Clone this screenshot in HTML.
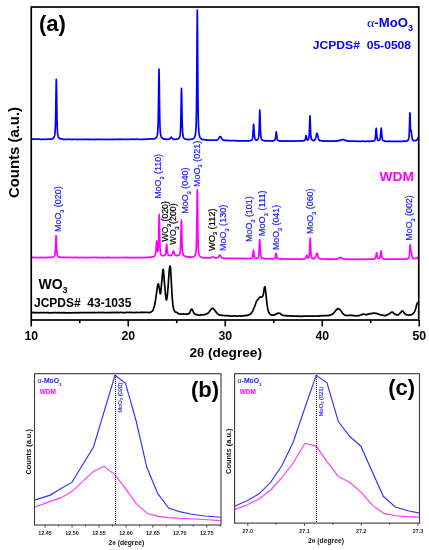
<!DOCTYPE html>
<html><head><meta charset="utf-8"><style>
html,body{margin:0;padding:0;background:#fff;}
body{width:429px;height:550px;overflow:hidden;}
svg{display:block;}
text{font-family:"Liberation Sans",Arial,sans-serif;}
.b{font-weight:bold;}
</style></head><body>
<svg width="429" height="550" viewBox="0 0 429 550">
<rect width="429" height="550" fill="#fff"/>
<!-- panel a curves -->
<g fill="none" stroke-linejoin="round" stroke-width="1.7">
<polyline stroke="#0000ff" points="31.25,139.21 31.50,139.29 31.75,139.09 32.00,138.97 32.25,139.12 32.50,139.18 32.75,139.20 33.00,139.11 33.25,139.14 33.50,139.16 33.75,139.16 34.00,139.05 34.25,139.06 34.50,139.06 34.75,139.15 35.00,139.28 35.25,139.35 35.50,139.28 35.75,139.21 36.00,139.12 36.25,139.00 36.50,138.92 36.75,139.01 37.00,139.01 37.25,139.04 37.50,139.19 37.75,139.19 38.00,139.19 38.25,139.11 38.50,139.00 38.75,139.02 39.00,138.98 39.25,139.06 39.50,139.25 39.75,139.27 40.00,139.14 40.25,139.27 40.50,139.32 40.75,139.33 41.00,139.39 41.25,139.38 41.50,139.39 41.75,139.27 42.00,139.37 42.25,139.43 42.50,139.24 42.75,139.30 43.00,139.32 43.25,139.26 43.50,139.24 43.75,139.22 44.00,139.33 44.25,139.28 44.50,139.34 44.75,139.24 45.00,139.33 45.25,139.39 45.50,139.30 45.75,139.28 46.00,139.36 46.25,139.36 46.50,139.28 46.75,139.17 47.00,139.12 47.25,139.20 47.50,139.09 47.75,139.23 48.00,139.14 48.25,139.26 48.50,139.15 48.75,139.27 49.00,139.27 49.25,139.20 49.50,139.16 49.75,139.16 50.00,139.14 50.25,139.04 50.50,138.94 50.75,138.95 51.00,139.06 51.25,139.02 51.50,138.82 51.75,138.88 52.00,138.86 52.25,138.87 52.50,138.62 52.75,138.58 53.00,138.29 53.25,138.19 53.50,137.91 53.75,137.59 54.00,137.37 54.25,136.74 54.50,136.08 54.75,135.13 55.00,133.25 55.25,129.81 55.50,123.24 55.75,111.01 56.00,93.49 56.25,79.84 56.30,79.35 56.50,86.34 56.75,104.38 57.00,118.94 57.25,127.81 57.50,132.13 57.75,134.51 58.00,135.66 58.25,136.48 58.50,137.21 58.75,137.54 59.00,137.81 59.25,138.16 59.50,138.34 59.75,138.38 60.00,138.71 60.25,138.69 60.50,138.67 60.75,138.77 61.00,138.92 61.25,139.06 61.50,138.98 61.75,139.01 62.00,138.95 62.25,139.04 62.50,139.19 62.75,139.28 63.00,139.38 63.25,139.41 63.50,139.46 63.75,139.46 64.00,139.39 64.25,139.29 64.50,139.35 64.75,139.29 65.00,139.20 65.25,139.25 65.50,139.40 65.75,139.28 66.00,139.34 66.25,139.32 66.50,139.35 66.75,139.26 67.00,139.44 67.25,139.35 67.50,139.40 67.75,139.37 68.00,139.25 68.25,139.33 68.50,139.26 68.75,139.19 69.00,139.15 69.25,139.16 69.50,139.15 69.75,139.29 70.00,139.34 70.25,139.51 70.50,139.59 70.75,139.66 71.00,139.49 71.25,139.45 71.50,139.37 71.75,139.41 72.00,139.45 72.25,139.52 72.50,139.54 72.75,139.43 73.00,139.41 73.25,139.42 73.50,139.28 73.75,139.21 74.00,139.27 74.25,139.23 74.50,139.37 74.75,139.32 75.00,139.25 75.25,139.23 75.50,139.24 75.75,139.23 76.00,139.32 76.25,139.35 76.50,139.33 76.75,139.41 77.00,139.34 77.25,139.49 77.50,139.59 77.75,139.59 78.00,139.51 78.25,139.48 78.50,139.48 78.75,139.34 79.00,139.35 79.25,139.39 79.50,139.32 79.75,139.25 80.00,139.40 80.25,139.38 80.50,139.40 80.75,139.53 81.00,139.52 81.25,139.42 81.50,139.56 81.75,139.47 82.00,139.32 82.25,139.41 82.50,139.31 82.75,139.30 83.00,139.45 83.25,139.49 83.50,139.33 83.75,139.35 84.00,139.36 84.25,139.38 84.50,139.32 84.75,139.38 85.00,139.28 85.25,139.28 85.50,139.30 85.75,139.47 86.00,139.33 86.25,139.44 86.50,139.35 86.75,139.40 87.00,139.38 87.25,139.38 87.50,139.47 87.75,139.42 88.00,139.31 88.25,139.25 88.50,139.20 88.75,139.38 89.00,139.44 89.25,139.56 89.50,139.55 89.75,139.37 90.00,139.43 90.25,139.50 90.50,139.53 90.75,139.48 91.00,139.41 91.25,139.40 91.50,139.49 91.75,139.39 92.00,139.41 92.25,139.40 92.50,139.53 92.75,139.57 93.00,139.63 93.25,139.63 93.50,139.49 93.75,139.38 94.00,139.39 94.25,139.33 94.50,139.34 94.75,139.42 95.00,139.53 95.25,139.50 95.50,139.55 95.75,139.38 96.00,139.35 96.25,139.51 96.50,139.37 96.75,139.36 97.00,139.25 97.25,139.20 97.50,139.39 97.75,139.53 98.00,139.52 98.25,139.37 98.50,139.32 98.75,139.28 99.00,139.37 99.25,139.43 99.50,139.40 99.75,139.41 100.00,139.29 100.25,139.34 100.50,139.49 100.75,139.52 101.00,139.36 101.25,139.38 101.50,139.44 101.75,139.35 102.00,139.48 102.25,139.43 102.50,139.47 102.75,139.41 103.00,139.54 103.25,139.56 103.50,139.51 103.75,139.36 104.00,139.35 104.25,139.24 104.50,139.32 104.75,139.45 105.00,139.34 105.25,139.36 105.50,139.36 105.75,139.34 106.00,139.42 106.25,139.53 106.50,139.52 106.75,139.46 107.00,139.56 107.25,139.44 107.50,139.48 107.75,139.48 108.00,139.51 108.25,139.56 108.50,139.41 108.75,139.43 109.00,139.38 109.25,139.42 109.50,139.54 109.75,139.51 110.00,139.32 110.25,139.33 110.50,139.40 110.75,139.50 111.00,139.49 111.25,139.53 111.50,139.33 111.75,139.47 112.00,139.49 112.25,139.47 112.50,139.54 112.75,139.58 113.00,139.38 113.25,139.46 113.50,139.50 113.75,139.36 114.00,139.43 114.25,139.43 114.50,139.31 114.75,139.42 115.00,139.29 115.25,139.35 115.50,139.33 115.75,139.27 116.00,139.33 116.25,139.33 116.50,139.26 116.75,139.43 117.00,139.28 117.25,139.17 117.50,139.24 117.75,139.38 118.00,139.41 118.25,139.46 118.50,139.41 118.75,139.43 119.00,139.35 119.25,139.29 119.50,139.31 119.75,139.19 120.00,139.14 120.25,139.29 120.50,139.22 120.75,139.34 121.00,139.42 121.25,139.36 121.50,139.40 121.75,139.46 122.00,139.51 122.25,139.34 122.50,139.25 122.75,139.25 123.00,139.27 123.25,139.24 123.50,139.14 123.75,139.23 124.00,139.40 124.25,139.34 124.50,139.35 124.75,139.31 125.00,139.30 125.25,139.42 125.50,139.33 125.75,139.37 126.00,139.35 126.25,139.35 126.50,139.46 126.75,139.29 127.00,139.39 127.25,139.31 127.50,139.36 127.75,139.42 128.00,139.43 128.25,139.35 128.50,139.43 128.75,139.27 129.00,139.33 129.25,139.29 129.50,139.31 129.75,139.41 130.00,139.45 130.25,139.43 130.50,139.33 130.75,139.25 131.00,139.26 131.25,139.20 131.50,139.18 131.75,139.36 132.00,139.23 132.25,139.35 132.50,139.30 132.75,139.26 133.00,139.23 133.25,139.14 133.50,139.19 133.75,139.14 134.00,139.19 134.25,139.17 134.50,139.33 134.75,139.43 135.00,139.36 135.25,139.37 135.50,139.46 135.75,139.34 136.00,139.21 136.25,139.17 136.50,139.13 136.75,139.24 137.00,139.22 137.25,139.21 137.50,139.32 137.75,139.23 138.00,139.33 138.25,139.35 138.50,139.29 138.75,139.37 139.00,139.29 139.25,139.39 139.50,139.46 139.75,139.38 140.00,139.39 140.25,139.46 140.50,139.45 140.75,139.44 141.00,139.47 141.25,139.51 141.50,139.48 141.75,139.52 142.00,139.35 142.25,139.34 142.50,139.35 142.75,139.27 143.00,139.23 143.25,139.14 143.50,139.31 143.75,139.24 144.00,139.23 144.25,139.34 144.50,139.20 144.75,139.34 145.00,139.18 145.25,139.06 145.50,139.08 145.75,139.09 146.00,139.25 146.25,139.34 146.50,139.35 146.75,139.27 147.00,139.25 147.25,139.14 147.50,139.25 147.75,139.18 148.00,139.11 148.25,139.17 148.50,139.06 148.75,139.04 149.00,139.20 149.25,139.05 149.50,138.98 149.75,138.94 150.00,138.93 150.25,138.97 150.50,138.95 150.75,138.96 151.00,138.93 151.25,138.91 151.50,138.99 151.75,138.96 152.00,138.94 152.25,139.04 152.50,138.89 152.75,138.81 153.00,138.95 153.25,138.90 153.50,138.95 153.75,138.78 154.00,138.77 154.25,138.83 154.50,138.69 154.75,138.69 155.00,138.60 155.25,138.43 155.50,138.43 155.75,138.17 156.00,137.93 156.25,137.69 156.50,137.28 156.75,136.92 157.00,136.28 157.25,135.38 157.50,133.99 157.75,131.76 158.00,127.28 158.25,118.30 158.50,102.43 158.75,81.25 159.00,69.05 159.25,81.10 159.50,102.15 159.75,118.12 160.00,126.99 160.25,131.70 160.50,134.08 160.75,135.53 161.00,136.25 161.25,136.84 161.50,137.41 161.75,137.61 162.00,137.81 162.25,138.06 162.50,138.20 162.75,138.31 163.00,138.55 163.25,138.57 163.50,138.84 163.75,138.94 164.00,138.85 164.25,139.05 164.50,139.00 164.75,139.04 165.00,139.11 165.25,139.03 165.50,139.10 165.75,139.03 166.00,139.03 166.25,139.23 166.50,139.33 166.75,139.31 167.00,139.35 167.25,139.43 167.50,139.27 167.75,139.27 168.00,139.17 168.25,139.10 168.50,139.05 168.75,139.03 169.00,138.96 169.25,138.92 169.50,138.88 169.75,138.83 170.00,138.75 170.25,138.56 170.50,138.22 170.75,137.81 171.00,137.59 171.25,137.27 171.30,137.15 171.50,137.36 171.75,137.64 172.00,137.89 172.25,138.24 172.50,138.51 172.75,138.78 173.00,138.97 173.25,139.09 173.50,139.27 173.75,139.39 174.00,139.39 174.25,139.37 174.50,139.30 174.75,139.39 175.00,139.51 175.25,139.36 175.50,139.40 175.75,139.41 176.00,139.40 176.25,139.20 176.50,139.22 176.75,139.11 177.00,139.02 177.25,139.05 177.50,139.06 177.75,139.01 178.00,138.97 178.25,138.88 178.50,138.67 178.75,138.33 179.00,138.20 179.25,137.94 179.50,137.54 179.75,136.85 180.00,135.67 180.25,133.89 180.50,130.50 180.75,124.04 181.00,112.55 181.25,97.04 181.50,88.30 181.75,97.32 182.00,112.81 182.25,124.25 182.50,130.72 182.75,133.96 183.00,135.80 183.25,136.85 183.50,137.41 183.75,137.99 184.00,138.31 184.25,138.51 184.50,138.67 184.75,138.89 185.00,138.98 185.25,139.11 185.50,139.06 185.75,139.22 186.00,139.20 186.25,139.39 186.50,139.31 186.75,139.31 187.00,139.37 187.25,139.37 187.50,139.42 187.75,139.56 188.00,139.44 188.25,139.54 188.50,139.57 188.75,139.61 189.00,139.54 189.25,139.50 189.50,139.44 189.75,139.43 190.00,139.36 190.25,139.29 190.50,139.31 190.75,139.24 191.00,139.25 191.25,139.27 191.50,139.19 191.75,139.08 192.00,139.10 192.25,139.15 192.50,138.96 192.75,138.91 193.00,138.83 193.25,138.78 193.50,138.60 193.75,138.29 194.00,137.94 194.25,137.73 194.50,137.24 194.75,136.57 195.00,136.02 195.25,134.95 195.50,133.54 195.75,131.47 196.00,128.07 196.25,121.77 196.50,108.44 196.75,82.73 197.00,43.24 197.25,11.34 197.30,9.99 197.50,27.00 197.75,68.16 198.00,99.84 198.25,117.57 198.50,126.14 198.75,130.35 199.00,132.92 199.25,134.69 199.50,135.83 199.75,136.62 200.00,137.30 200.25,137.84 200.50,138.04 200.75,138.27 201.00,138.66 201.25,138.94 201.50,138.95 201.75,139.14 202.00,139.33 202.25,139.40 202.50,139.50 202.75,139.53 203.00,139.49 203.25,139.48 203.50,139.45 203.75,139.61 204.00,139.58 204.25,139.71 204.50,139.73 204.75,139.77 205.00,139.95 205.25,139.91 205.50,139.92 205.75,139.90 206.00,139.85 206.25,139.83 206.50,139.92 206.75,140.05 207.00,139.93 207.25,140.11 207.50,140.14 207.75,139.99 208.00,140.09 208.25,140.07 208.50,140.09 208.75,139.99 209.00,140.05 209.25,140.09 209.50,140.20 209.75,140.20 210.00,140.25 210.25,140.28 210.50,140.16 210.75,140.04 211.00,140.09 211.25,140.03 211.50,140.00 211.75,140.03 212.00,140.11 212.25,140.18 212.50,140.23 212.75,140.35 213.00,140.18 213.25,140.21 213.50,140.10 213.75,140.19 214.00,140.18 214.25,140.09 214.50,140.08 214.75,140.17 215.00,140.17 215.25,140.29 215.50,140.20 215.75,140.13 216.00,140.24 216.25,140.20 216.50,140.01 216.75,140.06 217.00,139.94 217.25,139.97 217.50,139.83 217.75,139.70 218.00,139.53 218.25,139.18 218.50,138.93 218.75,138.34 219.00,137.88 219.25,137.56 219.50,136.98 219.75,136.73 220.00,136.65 220.20,136.60 220.25,136.65 220.50,136.59 220.75,136.89 221.00,137.31 221.25,137.72 221.50,138.13 221.75,138.64 222.00,138.88 222.25,139.09 222.50,139.44 222.75,139.81 223.00,140.03 223.25,140.15 223.50,140.13 223.75,140.31 224.00,140.19 224.25,140.18 224.50,140.34 224.75,140.47 225.00,140.42 225.25,140.53 225.50,140.39 225.75,140.44 226.00,140.33 226.25,140.31 226.50,140.30 226.75,140.24 227.00,140.32 227.25,140.40 227.50,140.39 227.75,140.49 228.00,140.39 228.25,140.46 228.50,140.50 228.75,140.50 229.00,140.65 229.25,140.51 229.50,140.52 229.75,140.54 230.00,140.53 230.25,140.69 230.50,140.68 230.75,140.66 231.00,140.63 231.25,140.61 231.50,140.74 231.75,140.79 232.00,140.77 232.25,140.63 232.50,140.66 232.75,140.56 233.00,140.56 233.25,140.47 233.50,140.61 233.75,140.77 234.00,140.77 234.25,140.76 234.50,140.66 234.75,140.66 235.00,140.66 235.25,140.66 235.50,140.61 235.75,140.57 236.00,140.70 236.25,140.84 236.50,140.88 236.75,140.85 237.00,140.67 237.25,140.64 237.50,140.78 237.75,140.90 238.00,140.85 238.25,140.83 238.50,140.85 238.75,140.74 239.00,140.81 239.25,140.75 239.50,140.86 239.75,140.81 240.00,140.84 240.25,140.83 240.50,140.82 240.75,140.80 241.00,140.92 241.25,140.94 241.50,140.86 241.75,140.84 242.00,140.93 242.25,140.95 242.50,140.93 242.75,141.01 243.00,140.82 243.25,140.84 243.50,140.87 243.75,140.83 244.00,140.95 244.25,141.03 244.50,140.91 244.75,140.91 245.00,140.95 245.25,140.95 245.50,140.86 245.75,140.92 246.00,140.84 246.25,140.73 246.50,140.81 246.75,140.85 247.00,140.80 247.25,140.80 247.50,140.93 247.75,140.96 248.00,140.86 248.25,140.94 248.50,140.88 248.75,140.80 249.00,140.81 249.25,140.84 249.50,140.88 249.75,140.83 250.00,140.78 250.25,140.65 250.50,140.45 250.75,140.41 251.00,140.24 251.25,140.31 251.50,140.11 251.75,139.93 252.00,139.68 252.25,139.05 252.50,138.22 252.75,136.36 253.00,133.12 253.25,128.72 253.50,124.75 253.60,124.41 253.75,125.37 254.00,129.59 254.25,133.74 254.50,136.48 254.75,138.13 255.00,139.04 255.25,139.36 255.50,139.61 255.75,139.81 256.00,140.05 256.25,140.20 256.50,140.25 256.75,140.18 257.00,140.07 257.25,139.84 257.50,139.72 257.75,139.38 258.00,139.01 258.25,138.62 258.50,137.73 258.75,136.06 259.00,132.58 259.25,126.25 259.50,117.25 259.75,110.36 259.80,110.03 260.00,113.78 260.25,123.10 260.50,130.48 260.75,134.86 261.00,137.27 261.25,138.48 261.50,139.03 261.75,139.50 262.00,139.72 262.25,140.07 262.50,140.23 262.75,140.33 263.00,140.32 263.25,140.40 263.50,140.49 263.75,140.52 264.00,140.50 264.25,140.51 264.50,140.66 264.75,140.82 265.00,140.91 265.25,140.90 265.50,140.95 265.75,140.80 266.00,140.73 266.25,140.84 266.50,140.71 266.75,140.65 267.00,140.82 267.25,140.76 267.50,140.72 267.75,140.76 268.00,140.91 268.25,140.77 268.50,140.92 268.75,140.86 269.00,140.90 269.25,140.89 269.50,140.79 269.75,140.96 270.00,140.85 270.25,140.95 270.50,141.04 270.75,140.97 271.00,141.06 271.25,140.87 271.50,140.77 271.75,140.80 272.00,140.70 272.25,140.84 272.50,140.84 272.75,140.90 273.00,140.79 273.25,140.63 273.50,140.75 273.75,140.61 274.00,140.55 274.25,140.37 274.50,140.32 274.75,140.14 275.00,139.72 275.25,139.00 275.50,137.87 275.75,136.14 276.00,133.64 276.25,131.93 276.30,131.96 276.50,132.87 276.75,135.32 277.00,137.47 277.25,138.97 277.50,139.63 277.75,140.20 278.00,140.27 278.25,140.35 278.50,140.40 278.75,140.63 279.00,140.71 279.25,140.89 279.50,141.01 279.75,141.09 280.00,141.05 280.25,140.96 280.50,141.07 280.75,141.09 281.00,140.95 281.25,140.97 281.50,140.83 281.75,140.75 282.00,140.88 282.25,140.98 282.50,141.08 282.75,141.12 283.00,140.97 283.25,141.05 283.50,141.16 283.75,141.15 284.00,141.09 284.25,141.00 284.50,140.88 284.75,140.97 285.00,141.12 285.25,140.97 285.50,141.08 285.75,141.17 286.00,141.07 286.25,141.15 286.50,141.00 286.75,140.96 287.00,141.00 287.25,141.12 287.50,141.09 287.75,140.95 288.00,141.10 288.25,141.10 288.50,141.15 288.75,141.03 289.00,140.98 289.25,140.89 289.50,140.86 289.75,140.91 290.00,140.94 290.25,141.02 290.50,141.12 290.75,141.04 291.00,141.16 291.25,141.15 291.50,141.07 291.75,140.97 292.00,141.12 292.25,141.13 292.50,140.97 292.75,141.05 293.00,141.01 293.25,141.00 293.50,141.09 293.75,140.99 294.00,140.95 294.25,140.99 294.50,141.13 294.75,140.97 295.00,141.09 295.25,141.13 295.50,141.00 295.75,141.06 296.00,141.09 296.25,141.12 296.50,141.10 296.75,141.02 297.00,141.02 297.25,140.95 297.50,140.97 297.75,140.97 298.00,140.88 298.25,140.86 298.50,140.88 298.75,140.90 299.00,140.97 299.25,141.05 299.50,140.97 299.75,141.00 300.00,140.95 300.25,140.89 300.50,140.83 300.75,141.02 301.00,141.12 301.25,141.15 301.50,140.98 301.75,140.87 302.00,140.78 302.25,140.78 302.50,140.80 302.75,140.69 303.00,140.73 303.25,140.82 303.50,140.89 303.75,140.73 304.00,140.56 304.25,140.63 304.50,140.50 304.75,140.30 305.00,139.93 305.25,139.37 305.50,138.40 305.75,137.01 306.00,135.77 306.10,135.69 306.25,136.10 306.50,137.31 306.75,138.54 307.00,139.34 307.25,139.84 307.50,140.02 307.75,140.09 308.00,139.80 308.25,139.64 308.50,139.14 308.75,138.46 309.00,137.05 309.25,134.13 309.50,128.55 309.75,120.58 310.00,115.73 310.25,120.71 310.50,128.69 310.75,134.16 311.00,136.97 311.25,138.52 311.50,139.22 311.75,139.63 312.00,139.94 312.25,140.01 312.50,140.09 312.75,140.32 313.00,140.43 313.25,140.57 313.50,140.49 313.75,140.58 314.00,140.58 314.25,140.42 314.50,140.35 314.75,139.97 315.00,139.53 315.25,139.20 315.50,138.45 315.75,137.64 316.00,136.70 316.25,135.59 316.50,134.37 316.75,133.61 317.00,133.14 317.25,133.53 317.50,134.52 317.75,135.63 318.00,136.70 318.25,137.89 318.50,138.77 318.75,139.45 319.00,139.98 319.25,140.36 319.50,140.51 319.75,140.68 320.00,140.71 320.25,140.68 320.50,140.67 320.75,140.68 321.00,140.62 321.25,140.77 321.50,140.80 321.75,140.97 322.00,140.83 322.25,140.96 322.50,140.88 322.75,140.88 323.00,140.87 323.25,141.05 323.50,141.08 323.75,141.04 324.00,140.95 324.25,140.86 324.50,140.89 324.75,141.08 325.00,141.05 325.25,141.10 325.50,141.19 325.75,141.01 326.00,140.98 326.25,140.99 326.50,140.95 326.75,140.96 327.00,141.06 327.25,140.96 327.50,141.06 327.75,141.01 328.00,141.08 328.25,140.99 328.50,141.11 328.75,141.08 329.00,141.17 329.25,141.27 329.50,141.22 329.75,141.03 330.00,141.02 330.25,141.18 330.50,141.18 330.75,141.22 331.00,141.16 331.25,141.25 331.50,141.30 331.75,141.24 332.00,141.20 332.25,141.04 332.50,140.92 332.75,140.90 333.00,141.03 333.25,141.14 333.50,141.19 333.75,141.25 334.00,141.04 334.25,140.91 334.50,140.90 334.75,140.82 335.00,140.93 335.25,141.09 335.50,141.17 335.75,140.99 336.00,141.03 336.25,141.06 336.50,141.06 336.75,140.98 337.00,140.87 337.25,140.97 337.50,141.03 337.75,140.99 338.00,140.90 338.25,140.68 338.50,140.60 338.75,140.51 339.00,140.43 339.25,140.35 339.50,140.39 339.75,140.39 340.00,140.22 340.25,140.28 340.50,140.04 340.75,140.12 341.00,140.04 341.25,139.98 341.50,139.82 341.75,139.82 342.00,139.87 342.25,139.70 342.50,139.58 342.60,139.70 342.75,139.63 343.00,139.57 343.25,139.66 343.50,139.66 343.75,139.70 344.00,139.77 344.25,139.80 344.50,140.06 344.75,140.17 345.00,140.30 345.25,140.31 345.50,140.48 345.75,140.66 346.00,140.81 346.25,140.65 346.50,140.65 346.75,140.61 347.00,140.71 347.25,140.84 347.50,140.91 347.75,140.90 348.00,141.07 348.25,141.09 348.50,141.21 348.75,141.13 349.00,141.15 349.25,141.02 349.50,141.06 349.75,141.13 350.00,141.05 350.25,141.12 350.50,141.02 350.75,141.06 351.00,141.13 351.25,141.13 351.50,141.05 351.75,141.01 352.00,141.04 352.25,141.14 352.50,141.13 352.75,141.07 353.00,141.07 353.25,141.07 353.50,141.02 353.75,141.11 354.00,141.14 354.25,141.12 354.50,141.01 354.75,141.21 355.00,141.08 355.25,141.03 355.50,141.04 355.75,141.19 356.00,141.33 356.25,141.36 356.50,141.22 356.75,141.32 357.00,141.15 357.25,141.07 357.50,141.03 357.75,141.13 358.00,141.20 358.25,141.25 358.50,141.37 358.75,141.39 359.00,141.40 359.25,141.24 359.50,141.36 359.75,141.43 360.00,141.45 360.25,141.25 360.50,141.31 360.75,141.29 361.00,141.29 361.25,141.21 361.50,141.30 361.75,141.37 362.00,141.40 362.25,141.29 362.50,141.34 362.75,141.19 363.00,141.27 363.25,141.13 363.50,141.04 363.75,141.02 364.00,141.16 364.25,141.33 364.50,141.30 364.75,141.32 365.00,141.32 365.25,141.39 365.50,141.47 365.75,141.48 366.00,141.34 366.25,141.19 366.50,141.33 366.75,141.24 367.00,141.32 367.25,141.39 367.50,141.24 367.75,141.16 368.00,141.17 368.25,141.30 368.50,141.38 368.75,141.46 369.00,141.31 369.25,141.31 369.50,141.38 369.75,141.28 370.00,141.28 370.25,141.17 370.50,141.28 370.75,141.23 371.00,141.21 371.25,141.23 371.50,141.15 371.75,141.23 372.00,141.17 372.25,141.12 372.50,141.15 372.75,141.14 373.00,141.13 373.25,141.14 373.50,141.10 373.75,140.92 374.00,140.82 374.25,140.74 374.50,140.35 374.75,140.08 375.00,139.50 375.25,138.37 375.50,136.27 375.75,133.09 376.00,129.59 376.20,128.33 376.25,128.52 376.50,131.13 376.75,134.79 377.00,137.46 377.25,138.84 377.50,139.69 377.75,140.18 378.00,140.41 378.25,140.41 378.50,140.51 378.75,140.45 379.00,140.39 379.25,140.35 379.50,140.19 379.75,139.72 380.00,139.16 380.25,137.85 380.50,135.74 380.75,132.75 381.00,129.42 381.20,128.06 381.25,128.22 381.50,130.58 381.75,134.15 382.00,136.87 382.25,138.49 382.50,139.48 382.75,140.06 383.00,140.49 383.25,140.55 383.50,140.66 383.75,140.67 384.00,140.75 384.25,140.82 384.50,141.04 384.75,141.21 385.00,141.12 385.25,141.15 385.50,141.19 385.75,141.21 386.00,141.35 386.25,141.44 386.50,141.25 386.75,141.24 387.00,141.27 387.25,141.32 387.50,141.33 387.75,141.41 388.00,141.26 388.25,141.28 388.50,141.39 388.75,141.28 389.00,141.21 389.25,141.30 389.50,141.22 389.75,141.28 390.00,141.21 390.25,141.18 390.50,141.20 390.75,141.35 391.00,141.39 391.25,141.41 391.50,141.43 391.75,141.38 392.00,141.51 392.25,141.48 392.50,141.48 392.75,141.31 393.00,141.27 393.25,141.34 393.50,141.48 393.75,141.50 394.00,141.33 394.25,141.44 394.50,141.34 394.75,141.38 395.00,141.30 395.25,141.21 395.50,141.36 395.75,141.37 396.00,141.40 396.25,141.45 396.50,141.45 396.75,141.40 397.00,141.35 397.25,141.37 397.50,141.31 397.75,141.27 398.00,141.40 398.25,141.35 398.50,141.43 398.75,141.46 399.00,141.42 399.25,141.48 399.50,141.39 399.75,141.24 400.00,141.39 400.25,141.45 400.50,141.48 400.75,141.55 401.00,141.44 401.25,141.38 401.50,141.40 401.75,141.48 402.00,141.36 402.25,141.41 402.50,141.50 402.75,141.35 403.00,141.19 403.25,141.13 403.50,141.23 403.75,141.16 404.00,141.32 404.25,141.17 404.50,141.29 404.75,141.21 405.00,141.31 405.25,141.19 405.50,141.05 405.75,141.10 406.00,141.01 406.25,141.12 406.50,141.12 406.75,140.93 407.00,140.84 407.25,140.75 407.50,140.69 407.75,140.42 408.00,140.21 408.25,139.89 408.50,139.41 408.75,138.58 409.00,136.88 409.25,133.10 409.50,125.62 409.75,115.77 409.90,112.82 410.00,113.75 410.25,122.27 410.50,129.10 410.75,131.21 411.00,130.42 411.20,130.23 411.25,130.44 411.50,132.87 411.75,135.60 412.00,137.79 412.25,139.07 412.50,139.56 412.75,139.95 413.00,140.20 413.25,140.39 413.50,140.59 413.75,140.53 414.00,140.67 414.25,140.52 414.50,140.66 414.75,140.58 415.00,140.45 415.25,140.57 415.50,140.67 415.75,140.60 416.00,140.55 416.25,140.36 416.50,140.14 416.75,140.03 417.00,139.89 417.25,139.51 417.50,139.15 417.75,138.69 418.00,138.17 418.25,137.74 418.50,136.91"/>
<polyline stroke="#ff00ff" points="31.25,257.42 31.50,257.46 31.75,257.44 32.00,257.49 32.25,257.52 32.50,257.39 32.75,257.29 33.00,257.47 33.25,257.41 33.50,257.37 33.75,257.56 34.00,257.52 34.25,257.60 34.50,257.55 34.75,257.57 35.00,257.44 35.25,257.50 35.50,257.60 35.75,257.56 36.00,257.60 36.25,257.61 36.50,257.44 36.75,257.53 37.00,257.54 37.25,257.47 37.50,257.35 37.75,257.51 38.00,257.49 38.25,257.55 38.50,257.63 38.75,257.64 39.00,257.70 39.25,257.58 39.50,257.63 39.75,257.56 40.00,257.65 40.25,257.69 40.50,257.50 40.75,257.39 41.00,257.35 41.25,257.54 41.50,257.50 41.75,257.53 42.00,257.46 42.25,257.47 42.50,257.44 42.75,257.42 43.00,257.47 43.25,257.50 43.50,257.60 43.75,257.61 44.00,257.68 44.25,257.70 44.50,257.75 44.75,257.69 45.00,257.51 45.25,257.60 45.50,257.68 45.75,257.71 46.00,257.63 46.25,257.62 46.50,257.48 46.75,257.57 47.00,257.54 47.25,257.45 47.50,257.33 47.75,257.48 48.00,257.60 48.25,257.42 48.50,257.51 48.75,257.45 49.00,257.34 49.25,257.32 49.50,257.43 49.75,257.52 50.00,257.34 50.25,257.39 50.50,257.25 50.75,257.35 51.00,257.30 51.25,257.41 51.50,257.50 51.75,257.41 52.00,257.47 52.25,257.31 52.50,257.12 52.75,257.13 53.00,256.95 53.25,256.84 53.50,256.79 53.75,256.74 54.00,256.49 54.25,256.17 54.50,255.99 54.75,255.37 55.00,254.44 55.25,252.36 55.50,248.24 55.75,242.04 56.00,236.25 56.10,235.58 56.25,237.11 56.50,243.42 56.75,249.23 57.00,252.91 57.25,254.73 57.50,255.62 57.75,256.19 58.00,256.41 58.25,256.59 58.50,256.91 58.75,257.00 59.00,257.09 59.25,257.00 59.50,257.08 59.75,257.18 60.00,257.10 60.25,257.22 60.50,257.31 60.75,257.21 61.00,257.31 61.25,257.34 61.50,257.41 61.75,257.37 62.00,257.45 62.25,257.51 62.50,257.35 62.75,257.26 63.00,257.39 63.25,257.54 63.50,257.44 63.75,257.44 64.00,257.48 64.25,257.42 64.50,257.41 64.75,257.38 65.00,257.39 65.25,257.45 65.50,257.41 65.75,257.41 66.00,257.52 66.25,257.38 66.50,257.44 66.75,257.53 67.00,257.47 67.25,257.40 67.50,257.53 67.75,257.45 68.00,257.38 68.25,257.41 68.50,257.51 68.75,257.40 69.00,257.39 69.25,257.39 69.50,257.54 69.75,257.51 70.00,257.61 70.25,257.48 70.50,257.45 70.75,257.52 71.00,257.63 71.25,257.57 71.50,257.47 71.75,257.39 72.00,257.45 72.25,257.39 72.50,257.53 72.75,257.62 73.00,257.49 73.25,257.44 73.50,257.56 73.75,257.59 74.00,257.65 74.25,257.56 74.50,257.44 74.75,257.42 75.00,257.54 75.25,257.47 75.50,257.45 75.75,257.46 76.00,257.47 76.25,257.47 76.50,257.61 76.75,257.48 77.00,257.36 77.25,257.56 77.50,257.65 77.75,257.74 78.00,257.64 78.25,257.72 78.50,257.77 78.75,257.60 79.00,257.64 79.25,257.69 79.50,257.68 79.75,257.63 80.00,257.53 80.25,257.49 80.50,257.43 80.75,257.35 81.00,257.45 81.25,257.43 81.50,257.56 81.75,257.42 82.00,257.58 82.25,257.62 82.50,257.71 82.75,257.75 83.00,257.78 83.25,257.71 83.50,257.50 83.75,257.59 84.00,257.48 84.25,257.45 84.50,257.53 84.75,257.54 85.00,257.52 85.25,257.65 85.50,257.64 85.75,257.56 86.00,257.48 86.25,257.61 86.50,257.58 86.75,257.64 87.00,257.56 87.25,257.47 87.50,257.51 87.75,257.62 88.00,257.50 88.25,257.60 88.50,257.70 88.75,257.72 89.00,257.74 89.25,257.53 89.50,257.57 89.75,257.67 90.00,257.49 90.25,257.45 90.50,257.43 90.75,257.48 91.00,257.49 91.25,257.51 91.50,257.60 91.75,257.44 92.00,257.36 92.25,257.33 92.50,257.32 92.75,257.29 93.00,257.53 93.25,257.64 93.50,257.49 93.75,257.52 94.00,257.48 94.25,257.46 94.50,257.46 94.75,257.54 95.00,257.57 95.25,257.52 95.50,257.45 95.75,257.45 96.00,257.38 96.25,257.47 96.50,257.56 96.75,257.53 97.00,257.42 97.25,257.39 97.50,257.42 97.75,257.50 98.00,257.61 98.25,257.55 98.50,257.64 98.75,257.64 99.00,257.59 99.25,257.54 99.50,257.55 99.75,257.61 100.00,257.57 100.25,257.62 100.50,257.58 100.75,257.50 101.00,257.54 101.25,257.60 101.50,257.47 101.75,257.48 102.00,257.49 102.25,257.63 102.50,257.72 102.75,257.62 103.00,257.71 103.25,257.73 103.50,257.60 103.75,257.57 104.00,257.46 104.25,257.59 104.50,257.63 104.75,257.71 105.00,257.73 105.25,257.71 105.50,257.72 105.75,257.68 106.00,257.52 106.25,257.56 106.50,257.43 106.75,257.38 107.00,257.53 107.25,257.42 107.50,257.36 107.75,257.33 108.00,257.53 108.25,257.46 108.50,257.37 108.75,257.54 109.00,257.45 109.25,257.59 109.50,257.63 109.75,257.70 110.00,257.77 110.25,257.71 110.50,257.74 110.75,257.54 111.00,257.63 111.25,257.61 111.50,257.65 111.75,257.51 112.00,257.60 112.25,257.71 112.50,257.53 112.75,257.50 113.00,257.55 113.25,257.65 113.50,257.54 113.75,257.47 114.00,257.44 114.25,257.52 114.50,257.61 114.75,257.57 115.00,257.53 115.25,257.52 115.50,257.50 115.75,257.51 116.00,257.42 116.25,257.48 116.50,257.65 116.75,257.59 117.00,257.66 117.25,257.53 117.50,257.60 117.75,257.66 118.00,257.67 118.25,257.64 118.50,257.61 118.75,257.63 119.00,257.72 119.25,257.56 119.50,257.46 119.75,257.57 120.00,257.69 120.25,257.65 120.50,257.60 120.75,257.65 121.00,257.53 121.25,257.49 121.50,257.44 121.75,257.52 122.00,257.49 122.25,257.45 122.50,257.55 122.75,257.69 123.00,257.59 123.25,257.64 123.50,257.59 123.75,257.68 124.00,257.66 124.25,257.56 124.50,257.49 124.75,257.39 125.00,257.46 125.25,257.47 125.50,257.42 125.75,257.44 126.00,257.45 126.25,257.58 126.50,257.48 126.75,257.65 127.00,257.62 127.25,257.63 127.50,257.60 127.75,257.68 128.00,257.73 128.25,257.68 128.50,257.64 128.75,257.67 129.00,257.73 129.25,257.64 129.50,257.68 129.75,257.77 130.00,257.68 130.25,257.56 130.50,257.50 130.75,257.59 131.00,257.64 131.25,257.74 131.50,257.78 131.75,257.63 132.00,257.52 132.25,257.48 132.50,257.43 132.75,257.55 133.00,257.67 133.25,257.75 133.50,257.61 133.75,257.71 134.00,257.61 134.25,257.58 134.50,257.65 134.75,257.51 135.00,257.43 135.25,257.59 135.50,257.53 135.75,257.51 136.00,257.57 136.25,257.63 136.50,257.47 136.75,257.47 137.00,257.50 137.25,257.53 137.50,257.48 137.75,257.54 138.00,257.69 138.25,257.62 138.50,257.62 138.75,257.50 139.00,257.47 139.25,257.56 139.50,257.46 139.75,257.62 140.00,257.72 140.25,257.55 140.50,257.68 140.75,257.61 141.00,257.67 141.25,257.70 141.50,257.59 141.75,257.63 142.00,257.65 142.25,257.70 142.50,257.57 142.75,257.64 143.00,257.73 143.25,257.70 143.50,257.65 143.75,257.49 144.00,257.51 144.25,257.47 144.50,257.55 144.75,257.59 145.00,257.57 145.25,257.45 145.50,257.51 145.75,257.54 146.00,257.42 146.25,257.55 146.50,257.56 146.75,257.41 147.00,257.54 147.25,257.39 147.50,257.35 147.75,257.43 148.00,257.44 148.25,257.43 148.50,257.44 148.75,257.39 149.00,257.31 149.25,257.22 149.50,257.13 149.75,257.24 150.00,257.32 150.25,257.29 150.50,257.32 150.75,257.22 151.00,257.12 151.25,257.09 151.50,257.19 151.75,257.00 152.00,257.00 152.25,256.91 152.50,256.98 152.75,256.88 153.00,256.78 153.25,256.71 153.50,256.67 153.75,256.66 154.00,256.48 154.25,256.44 154.50,256.11 154.75,255.83 155.00,255.41 155.25,254.84 155.50,254.07 155.75,252.44 156.00,249.39 156.25,245.13 156.50,241.39 156.60,240.99 156.75,241.86 157.00,245.57 157.25,249.03 157.50,250.91 157.75,251.50 158.00,250.77 158.25,248.44 158.50,243.02 158.75,232.84 159.00,219.58 159.20,214.30 159.25,214.56 159.50,225.08 159.75,237.98 160.00,246.38 160.25,250.58 160.50,252.63 160.75,253.72 161.00,254.38 161.25,254.92 161.50,255.20 161.75,255.29 162.00,255.53 162.25,255.58 162.50,255.65 162.75,255.73 163.00,255.58 163.25,255.69 163.50,255.71 163.75,255.65 164.00,255.60 164.25,255.50 164.50,255.30 164.75,255.18 165.00,254.81 165.25,254.46 165.50,253.77 165.75,252.37 166.00,250.09 166.25,247.06 166.50,244.45 166.60,243.96 166.75,244.70 167.00,247.65 167.25,250.50 167.50,252.58 167.75,253.76 168.00,254.35 168.25,254.79 168.50,255.17 168.75,255.23 169.00,255.43 169.25,255.51 169.50,255.40 169.75,255.54 170.00,255.55 170.25,255.64 170.50,255.62 170.75,255.58 171.00,255.41 171.25,255.37 171.50,255.27 171.75,255.02 172.00,254.53 172.25,254.02 172.50,253.29 172.75,252.41 173.00,251.60 173.25,251.08 173.40,251.00 173.50,251.04 173.75,251.53 174.00,252.32 174.25,253.10 174.50,253.78 174.75,254.40 175.00,254.77 175.25,255.08 175.50,255.37 175.75,255.45 176.00,255.44 176.25,255.64 176.50,255.71 176.75,255.65 177.00,255.61 177.25,255.62 177.50,255.64 177.75,255.52 178.00,255.36 178.25,255.29 178.50,255.35 178.75,255.14 179.00,255.01 179.25,254.72 179.50,254.34 179.75,253.80 180.00,253.01 180.25,251.44 180.50,248.31 180.75,242.40 181.00,232.87 181.25,222.57 181.40,220.01 181.50,221.13 181.75,230.79 182.00,241.03 182.25,247.81 182.50,251.27 182.75,253.11 183.00,254.11 183.25,254.63 183.50,255.27 183.75,255.49 184.00,255.64 184.25,255.89 184.50,255.98 184.75,256.20 185.00,256.28 185.25,256.30 185.50,256.31 185.75,256.53 186.00,256.55 186.25,256.73 186.50,256.76 186.75,256.92 187.00,256.86 187.25,256.82 187.50,256.81 187.75,256.97 188.00,257.02 188.25,256.99 188.50,256.90 188.75,257.02 189.00,257.18 189.25,257.18 189.50,257.02 189.75,256.93 190.00,256.90 190.25,256.91 190.50,256.87 190.75,256.86 191.00,257.01 191.25,257.17 191.50,257.07 191.75,257.22 192.00,257.15 192.25,257.20 192.50,257.24 192.75,257.25 193.00,256.97 193.25,256.85 193.50,256.82 193.75,256.85 194.00,256.56 194.25,256.36 194.50,256.28 194.75,255.88 195.00,255.52 195.25,255.00 195.50,254.37 195.75,253.43 196.00,251.53 196.25,248.26 196.50,241.35 196.75,227.96 197.00,207.27 197.25,190.61 197.30,189.87 197.50,198.69 197.75,220.19 198.00,236.90 198.25,246.10 198.50,250.52 198.75,252.70 199.00,254.12 199.25,255.00 199.50,255.65 199.75,256.02 200.00,256.34 200.25,256.49 200.50,256.79 200.75,256.81 201.00,256.99 201.25,257.20 201.50,257.34 201.75,257.28 202.00,257.30 202.25,257.50 202.50,257.58 202.75,257.71 203.00,257.80 203.25,257.74 203.50,257.84 203.75,257.87 204.00,257.78 204.25,257.75 204.50,257.65 204.75,257.69 205.00,257.87 205.25,257.75 205.50,257.82 205.75,257.73 206.00,257.67 206.25,257.80 206.50,257.77 206.75,257.70 207.00,257.69 207.25,257.83 207.50,257.89 207.75,257.78 208.00,257.77 208.25,257.97 208.50,257.88 208.75,257.93 209.00,257.92 209.25,258.01 209.50,258.01 209.75,258.06 210.00,258.01 210.25,257.87 210.50,257.77 210.75,257.66 211.00,257.76 211.25,257.58 211.50,257.39 211.75,257.47 212.00,257.24 212.25,257.23 212.50,256.94 212.75,256.86 213.00,256.77 213.25,256.95 213.50,257.08 213.75,257.24 214.00,257.45 214.25,257.66 214.50,257.68 214.75,257.79 215.00,257.83 215.25,257.77 215.50,257.95 215.75,257.98 216.00,258.07 216.25,257.94 216.50,257.94 216.75,257.91 217.00,257.94 217.25,257.74 217.50,257.64 217.75,257.55 218.00,257.28 218.25,257.12 218.50,256.93 218.75,256.56 219.00,256.22 219.25,255.85 219.50,255.42 219.75,255.20 219.90,255.34 220.00,255.27 220.25,255.42 220.50,255.63 220.75,255.99 221.00,256.36 221.25,256.92 221.50,257.29 221.75,257.63 222.00,257.90 222.25,257.99 222.50,258.16 222.75,258.16 223.00,258.13 223.25,258.28 223.50,258.36 223.75,258.42 224.00,258.34 224.25,258.37 224.50,258.30 224.75,258.42 225.00,258.48 225.25,258.34 225.50,258.44 225.75,258.30 226.00,258.19 226.25,258.30 226.50,258.25 226.75,258.29 227.00,258.35 227.25,258.22 227.50,258.34 227.75,258.28 228.00,258.30 228.25,258.28 228.50,258.39 228.75,258.45 229.00,258.37 229.25,258.26 229.50,258.26 229.75,258.29 230.00,258.22 230.25,258.20 230.50,258.36 230.75,258.44 231.00,258.57 231.25,258.64 231.50,258.66 231.75,258.54 232.00,258.40 232.25,258.37 232.50,258.39 232.75,258.42 233.00,258.45 233.25,258.41 233.50,258.53 233.75,258.45 234.00,258.45 234.25,258.57 234.50,258.62 234.75,258.51 235.00,258.43 235.25,258.54 235.50,258.39 235.75,258.33 236.00,258.41 236.25,258.46 236.50,258.39 236.75,258.31 237.00,258.31 237.25,258.47 237.50,258.49 237.75,258.64 238.00,258.68 238.25,258.76 238.50,258.54 238.75,258.46 239.00,258.36 239.25,258.42 239.50,258.43 239.75,258.35 240.00,258.45 240.25,258.38 240.50,258.40 240.75,258.40 241.00,258.55 241.25,258.54 241.50,258.48 241.75,258.39 242.00,258.45 242.25,258.54 242.50,258.60 242.75,258.71 243.00,258.75 243.25,258.61 243.50,258.50 243.75,258.61 244.00,258.68 244.25,258.65 244.50,258.72 244.75,258.68 245.00,258.58 245.25,258.49 245.50,258.40 245.75,258.51 246.00,258.66 246.25,258.74 246.50,258.67 246.75,258.68 247.00,258.76 247.25,258.78 247.50,258.73 247.75,258.64 248.00,258.62 248.25,258.50 248.50,258.44 248.75,258.53 249.00,258.67 249.25,258.63 249.50,258.56 249.75,258.49 250.00,258.47 250.25,258.54 250.50,258.47 250.75,258.55 251.00,258.35 251.25,258.24 251.50,258.18 251.75,258.05 252.00,257.97 252.25,257.70 252.50,257.14 252.75,255.92 253.00,253.82 253.25,251.44 253.50,250.14 253.75,251.44 254.00,253.77 254.25,255.76 254.50,257.02 254.75,257.47 255.00,257.85 255.25,257.98 255.50,258.09 255.75,258.27 256.00,258.39 256.25,258.36 256.50,258.21 256.75,258.29 257.00,258.11 257.25,258.00 257.50,257.99 257.75,257.75 258.00,257.44 258.25,257.20 258.50,256.58 258.75,255.06 259.00,252.26 259.25,247.57 259.50,241.82 259.70,239.58 259.75,239.93 260.00,244.08 260.25,249.61 260.50,253.44 260.75,255.52 261.00,256.69 261.25,257.38 261.50,257.82 261.75,258.04 262.00,258.26 262.25,258.19 262.50,258.24 262.75,258.48 263.00,258.39 263.25,258.40 263.50,258.48 263.75,258.47 264.00,258.56 264.25,258.47 264.50,258.48 264.75,258.70 265.00,258.60 265.25,258.76 265.50,258.66 265.75,258.83 266.00,258.84 266.25,258.85 266.50,258.71 266.75,258.61 267.00,258.75 267.25,258.67 267.50,258.63 267.75,258.78 268.00,258.89 268.25,258.73 268.50,258.89 268.75,258.86 269.00,258.81 269.25,258.70 269.50,258.71 269.75,258.89 270.00,258.80 270.25,258.70 270.50,258.65 270.75,258.61 271.00,258.65 271.25,258.83 271.50,258.70 271.75,258.65 272.00,258.83 272.25,258.95 272.50,259.01 272.75,258.84 273.00,258.76 273.25,258.86 273.50,258.78 273.75,258.77 274.00,258.63 274.25,258.42 274.50,258.32 274.75,258.25 275.00,257.99 275.25,257.34 275.50,256.25 275.75,254.81 276.00,253.57 276.10,253.44 276.25,253.84 276.50,255.07 276.75,256.50 277.00,257.58 277.25,258.20 277.50,258.35 277.75,258.64 278.00,258.79 278.25,258.70 278.50,258.68 278.75,258.66 279.00,258.61 279.25,258.85 279.50,258.84 279.75,258.97 280.00,258.84 280.25,258.73 280.50,258.92 280.75,259.01 281.00,259.12 281.25,259.10 281.50,259.05 281.75,259.09 282.00,258.93 282.25,258.96 282.50,258.95 282.75,258.86 283.00,258.94 283.25,258.91 283.50,258.94 283.75,258.93 284.00,258.91 284.25,258.91 284.50,258.97 284.75,259.12 285.00,259.20 285.25,259.23 285.50,259.24 285.75,259.09 286.00,259.20 286.25,259.07 286.50,258.95 286.75,258.98 287.00,259.07 287.25,259.01 287.50,259.07 287.75,259.00 288.00,259.15 288.25,259.10 288.50,259.07 288.75,259.08 289.00,259.17 289.25,259.26 289.50,259.19 289.75,259.13 290.00,259.14 290.25,258.99 290.50,259.00 290.75,259.13 291.00,259.19 291.25,259.02 291.50,259.14 291.75,259.09 292.00,259.22 292.25,259.13 292.50,259.04 292.75,259.07 293.00,259.19 293.25,259.13 293.50,259.22 293.75,259.23 294.00,259.14 294.25,259.07 294.50,259.09 294.75,259.07 295.00,259.05 295.25,259.12 295.50,259.22 295.75,259.20 296.00,259.07 296.25,259.01 296.50,259.02 296.75,259.09 297.00,259.00 297.25,258.93 297.50,258.96 297.75,258.96 298.00,258.90 298.25,259.00 298.50,259.17 298.75,259.16 299.00,259.21 299.25,259.27 299.50,259.31 299.75,259.35 300.00,259.24 300.25,259.24 300.50,259.08 300.75,259.20 301.00,259.13 301.25,259.11 301.50,259.21 301.75,259.10 302.00,259.01 302.25,259.12 302.50,259.12 302.75,258.98 303.00,258.87 303.25,258.89 303.50,258.79 303.75,258.96 304.00,258.87 304.25,258.82 304.50,258.80 304.75,258.80 305.00,258.74 305.25,258.70 305.50,258.57 305.75,258.23 306.00,257.55 306.25,256.85 306.50,255.87 306.70,255.32 306.75,255.34 307.00,256.10 307.25,257.14 307.50,257.60 307.75,257.80 308.00,257.94 308.25,257.90 308.50,257.85 308.75,257.56 309.00,256.80 309.25,255.40 309.50,252.59 309.75,247.58 310.00,240.79 310.20,238.03 310.25,238.12 310.50,243.39 310.75,249.66 311.00,254.00 311.25,256.14 311.50,257.18 311.75,257.59 312.00,257.88 312.25,258.13 312.50,258.41 312.75,258.50 313.00,258.49 313.25,258.69 313.50,258.70 313.75,258.67 314.00,258.53 314.25,258.42 314.50,258.46 314.75,258.16 315.00,257.92 315.25,257.58 315.50,256.99 315.75,256.40 316.00,255.69 316.25,254.87 316.50,254.09 316.75,253.44 316.90,253.22 317.00,253.29 317.25,253.70 317.50,254.40 317.75,255.43 318.00,256.18 318.25,257.03 318.50,257.71 318.75,257.98 319.00,258.42 319.25,258.56 319.50,258.61 319.75,258.65 320.00,258.64 320.25,258.77 320.50,258.83 320.75,259.00 321.00,259.10 321.25,258.96 321.50,258.97 321.75,258.98 322.00,258.93 322.25,258.93 322.50,258.93 322.75,259.06 323.00,259.04 323.25,258.96 323.50,258.95 323.75,259.01 324.00,259.08 324.25,259.03 324.50,259.14 324.75,259.06 325.00,259.15 325.25,259.18 325.50,259.08 325.75,259.19 326.00,259.15 326.25,259.17 326.50,259.20 326.75,259.22 327.00,259.19 327.25,259.06 327.50,259.19 327.75,259.28 328.00,259.24 328.25,259.24 328.50,259.15 328.75,259.27 329.00,259.29 329.25,259.17 329.50,259.26 329.75,259.37 330.00,259.25 330.25,259.36 330.50,259.29 330.75,259.15 331.00,259.23 331.25,259.16 331.50,259.23 331.75,259.23 332.00,259.10 332.25,259.14 332.50,259.25 332.75,259.21 333.00,259.20 333.25,259.29 333.50,259.22 333.75,259.19 334.00,259.20 334.25,259.26 334.50,259.13 334.75,259.01 335.00,259.12 335.25,259.13 335.50,259.05 335.75,259.16 336.00,259.21 336.25,259.13 336.50,259.18 336.75,259.15 337.00,259.08 337.25,258.87 337.50,258.63 337.75,258.63 338.00,258.59 338.25,258.41 338.50,258.28 338.75,258.18 339.00,257.97 339.25,257.93 339.50,257.83 339.75,257.70 340.00,257.54 340.20,257.59 340.25,257.57 340.50,257.69 340.75,257.66 341.00,257.76 341.25,257.83 341.50,257.99 341.75,258.18 342.00,258.22 342.25,258.27 342.50,258.46 342.75,258.53 343.00,258.68 343.25,258.70 343.50,258.72 343.75,258.86 344.00,259.07 344.25,259.19 344.50,259.17 344.75,259.13 345.00,259.02 345.25,259.01 345.50,259.02 345.75,259.21 346.00,259.09 346.25,259.26 346.50,259.23 346.75,259.20 347.00,259.14 347.25,259.29 347.50,259.17 347.75,259.21 348.00,259.22 348.25,259.14 348.50,259.09 348.75,259.28 349.00,259.34 349.25,259.36 349.50,259.43 349.75,259.24 350.00,259.29 350.25,259.34 350.50,259.23 350.75,259.22 351.00,259.36 351.25,259.27 351.50,259.33 351.75,259.21 352.00,259.27 352.25,259.20 352.50,259.22 352.75,259.20 353.00,259.32 353.25,259.37 353.50,259.32 353.75,259.35 354.00,259.29 354.25,259.36 354.50,259.25 354.75,259.27 355.00,259.29 355.25,259.25 355.50,259.13 355.75,259.09 356.00,259.20 356.25,259.14 356.50,259.26 356.75,259.27 357.00,259.39 357.25,259.44 357.50,259.43 357.75,259.33 358.00,259.18 358.25,259.23 358.50,259.32 358.75,259.42 359.00,259.27 359.25,259.18 359.50,259.35 359.75,259.39 360.00,259.34 360.25,259.38 360.50,259.23 360.75,259.26 361.00,259.31 361.25,259.32 361.50,259.20 361.75,259.13 362.00,259.22 362.25,259.34 362.50,259.21 362.75,259.09 363.00,259.04 363.25,259.21 363.50,259.20 363.75,259.21 364.00,259.37 364.25,259.35 364.50,259.25 364.75,259.31 365.00,259.14 365.25,259.13 365.50,259.23 365.75,259.15 366.00,259.05 366.25,259.14 366.50,259.13 366.75,259.31 367.00,259.17 367.25,259.28 367.50,259.23 367.75,259.32 368.00,259.27 368.25,259.30 368.50,259.22 368.75,259.14 369.00,259.16 369.25,259.27 369.50,259.20 369.75,259.13 370.00,259.14 370.25,259.05 370.50,259.06 370.75,259.13 371.00,259.16 371.25,259.20 371.50,259.12 371.75,259.00 372.00,258.93 372.25,258.97 372.50,258.94 372.75,259.03 373.00,258.98 373.25,259.08 373.50,259.09 373.75,259.09 374.00,259.09 374.25,259.01 374.50,258.89 374.75,258.74 375.00,258.49 375.25,258.40 375.50,257.99 375.75,257.12 376.00,256.03 376.25,254.32 376.50,252.88 376.60,252.67 376.75,252.91 377.00,254.67 377.25,256.17 377.50,257.27 377.75,258.07 378.00,258.26 378.25,258.44 378.50,258.51 378.75,258.47 379.00,258.58 379.25,258.44 379.50,258.13 379.75,257.83 380.00,257.08 380.25,256.03 380.50,254.31 380.75,252.18 381.00,250.82 381.25,252.07 381.50,254.24 381.75,256.11 382.00,257.27 382.25,257.92 382.50,258.22 382.75,258.53 383.00,258.57 383.25,258.86 383.50,258.79 383.75,259.01 384.00,258.94 384.25,258.87 384.50,259.02 384.75,259.06 385.00,259.15 385.25,259.14 385.50,259.17 385.75,259.04 386.00,259.13 386.25,259.14 386.50,259.27 386.75,259.08 387.00,258.99 387.25,259.11 387.50,259.25 387.75,259.19 388.00,259.24 388.25,259.23 388.50,259.17 388.75,259.16 389.00,259.20 389.25,259.05 389.50,259.05 389.75,259.17 390.00,259.10 390.25,259.12 390.50,259.08 390.75,259.08 391.00,259.16 391.25,259.23 391.50,259.34 391.75,259.27 392.00,259.15 392.25,259.11 392.50,259.01 392.75,259.01 393.00,259.10 393.25,259.16 393.50,259.09 393.75,259.04 394.00,258.98 394.25,258.97 394.50,259.05 394.75,259.03 395.00,259.19 395.25,259.20 395.50,259.14 395.75,259.13 396.00,259.02 396.25,259.14 396.50,259.22 396.75,259.16 397.00,259.22 397.25,259.13 397.50,259.06 397.75,259.02 398.00,258.99 398.25,259.08 398.50,259.15 398.75,259.21 399.00,259.07 399.25,259.18 399.50,259.15 399.75,259.11 400.00,259.12 400.25,259.11 400.50,259.03 400.75,259.04 401.00,259.11 401.25,259.17 401.50,259.27 401.75,259.12 402.00,259.22 402.25,259.26 402.50,259.25 402.75,259.32 403.00,259.12 403.25,259.18 403.50,259.25 403.75,259.07 404.00,259.09 404.25,259.19 404.50,259.07 404.75,259.15 405.00,259.20 405.25,259.09 405.50,258.94 405.75,258.85 406.00,258.96 406.25,258.90 406.50,258.82 406.75,258.79 407.00,258.88 407.25,258.72 407.50,258.52 407.75,258.61 408.00,258.43 408.25,258.26 408.50,258.19 408.75,257.76 409.00,257.08 409.25,256.17 409.50,254.02 409.75,250.51 410.00,246.42 410.20,244.49 410.25,244.65 410.50,247.12 410.75,250.18 411.00,251.65 411.25,252.02 411.40,252.31 411.50,252.66 411.75,254.15 412.00,255.63 412.25,256.87 412.50,257.66 412.75,258.07 413.00,258.32 413.25,258.27 413.50,258.30 413.75,258.31 414.00,258.31 414.25,258.54 414.50,258.66 414.75,258.73 415.00,258.67 415.25,258.50 415.50,258.47 415.75,258.34 416.00,258.47 416.25,258.35 416.50,258.24 416.75,258.32 417.00,258.10 417.25,258.10 417.50,257.84 417.75,257.68 418.00,257.30 418.25,257.15 418.50,256.76"/>
<polyline stroke="#000" points="31.25,312.53 31.38,312.45 31.51,312.48 31.64,312.43 31.78,312.38 31.93,312.44 32.07,312.63 32.23,312.70 32.38,312.74 32.54,312.61 32.70,312.62 32.87,312.56 33.04,312.49 33.21,312.43 33.39,312.43 33.57,312.62 33.76,312.72 33.95,312.77 34.14,312.79 34.33,312.64 34.53,312.58 34.73,312.64 34.93,312.70 35.14,312.78 35.35,312.83 35.56,312.64 35.78,312.67 36.00,312.71 36.22,312.68 36.44,312.58 36.67,312.60 36.90,312.51 37.13,312.69 37.37,312.78 37.60,312.74 37.84,312.66 38.08,312.77 38.33,312.75 38.57,312.83 38.82,312.86 39.07,312.79 39.33,312.72 39.58,312.73 39.84,312.69 40.10,312.59 40.36,312.58 40.62,312.71 40.88,312.57 41.15,312.49 41.42,312.61 41.69,312.58 41.96,312.64 42.23,312.66 42.50,312.63 42.78,312.80 43.05,312.68 43.33,312.67 43.61,312.60 43.89,312.69 44.17,312.64 44.45,312.63 44.74,312.74 45.02,312.68 45.31,312.72 45.59,312.84 45.88,312.68 46.16,312.58 46.45,312.57 46.74,312.71 47.03,312.76 47.32,312.68 47.61,312.66 47.90,312.60 48.19,312.65 48.48,312.56 48.77,312.70 49.06,312.83 49.36,312.93 49.65,312.93 49.94,312.99 50.23,312.77 50.52,312.71 50.81,312.86 51.11,312.90 51.40,312.83 51.69,312.93 51.98,312.90 52.27,312.94 52.56,312.82 52.85,312.72 53.14,312.73 53.42,312.65 53.71,312.67 54.00,312.85 54.28,312.77 54.57,312.64 54.85,312.57 55.13,312.57 55.42,312.74 55.70,312.72 55.98,312.69 56.25,312.62 56.53,312.82 56.81,312.79 57.08,312.71 57.36,312.62 57.63,312.57 57.90,312.57 58.17,312.71 58.43,312.65 58.70,312.58 58.96,312.67 59.23,312.65 59.49,312.85 59.74,312.72 60.00,312.76 60.24,312.85 60.49,312.81 60.74,312.94 60.98,312.88 61.23,312.77 61.47,312.76 61.72,312.64 61.96,312.68 62.21,312.66 62.46,312.82 62.70,312.90 62.95,312.86 63.20,312.70 63.44,312.67 63.69,312.65 63.94,312.62 64.18,312.61 64.43,312.79 64.68,312.69 64.93,312.60 65.18,312.80 65.42,312.81 65.67,312.94 65.92,312.85 66.17,312.93 66.42,312.91 66.67,312.94 66.91,312.94 67.16,312.87 67.41,312.72 67.66,312.66 67.91,312.81 68.16,312.90 68.41,312.97 68.66,312.84 68.91,312.85 69.16,312.90 69.41,312.88 69.66,312.92 69.91,312.86 70.16,312.86 70.41,312.87 70.66,312.76 70.91,312.87 71.16,312.95 71.41,312.75 71.66,312.88 71.91,312.95 72.16,312.91 72.41,312.72 72.66,312.84 72.91,312.69 73.16,312.84 73.41,312.84 73.67,312.67 73.92,312.60 74.17,312.69 74.42,312.72 74.67,312.79 74.92,312.88 75.17,312.73 75.42,312.59 75.68,312.75 75.93,312.60 76.18,312.75 76.43,312.62 76.68,312.74 76.93,312.80 77.19,312.87 77.44,312.81 77.69,312.87 77.94,312.71 78.19,312.75 78.44,312.68 78.70,312.79 78.95,312.82 79.20,312.76 79.45,312.73 79.70,312.58 79.95,312.48 80.21,312.58 80.46,312.61 80.71,312.74 80.96,312.74 81.21,312.60 81.46,312.59 81.72,312.69 81.97,312.68 82.22,312.53 82.47,312.67 82.72,312.75 82.97,312.59 83.23,312.63 83.48,312.60 83.73,312.70 83.98,312.62 84.23,312.55 84.48,312.58 84.73,312.73 84.99,312.58 85.24,312.49 85.49,312.58 85.74,312.70 85.99,312.67 86.24,312.63 86.49,312.73 86.74,312.76 86.99,312.58 87.25,312.70 87.50,312.58 87.75,312.54 88.00,312.66 88.25,312.62 88.50,312.70 88.75,312.57 89.00,312.69 89.25,312.56 89.50,312.48 89.75,312.53 90.00,312.51 90.25,312.56 90.50,312.69 90.75,312.71 91.01,312.52 91.26,312.50 91.51,312.55 91.77,312.56 92.02,312.63 92.28,312.61 92.53,312.48 92.79,312.45 93.05,312.60 93.30,312.55 93.56,312.64 93.82,312.75 94.08,312.72 94.34,312.71 94.60,312.69 94.86,312.59 95.12,312.70 95.38,312.64 95.64,312.73 95.90,312.61 96.16,312.70 96.42,312.73 96.68,312.70 96.95,312.63 97.21,312.50 97.47,312.61 97.73,312.55 98.00,312.60 98.26,312.48 98.52,312.40 98.79,312.37 99.05,312.53 99.31,312.45 99.58,312.61 99.84,312.55 100.11,312.58 100.37,312.53 100.63,312.57 100.90,312.45 101.16,312.47 101.43,312.62 101.69,312.51 101.95,312.57 102.22,312.51 102.48,312.47 102.74,312.37 103.01,312.31 103.27,312.53 103.53,312.63 103.79,312.68 104.06,312.71 104.32,312.77 104.58,312.59 104.84,312.59 105.10,312.57 105.36,312.58 105.62,312.69 105.89,312.70 106.15,312.77 106.40,312.57 106.66,312.60 106.92,312.63 107.18,312.66 107.44,312.64 107.70,312.69 107.95,312.58 108.21,312.68 108.46,312.60 108.72,312.60 108.97,312.68 109.23,312.68 109.48,312.57 109.74,312.48 109.99,312.45 110.24,312.52 110.49,312.66 110.74,312.72 110.99,312.62 111.24,312.55 111.49,312.63 111.73,312.53 111.98,312.50 112.23,312.37 112.47,312.35 112.72,312.43 112.96,312.52 113.20,312.55 113.44,312.50 113.69,312.64 113.93,312.62 114.16,312.49 114.40,312.38 114.64,312.57 114.88,312.68 115.11,312.73 115.35,312.68 115.58,312.56 115.81,312.43 116.04,312.39 116.27,312.36 116.50,312.54 116.73,312.64 116.96,312.67 117.18,312.50 117.41,312.43 117.63,312.41 117.85,312.57 118.07,312.45 118.29,312.55 118.51,312.58 118.73,312.57 118.94,312.67 119.16,312.54 119.37,312.53 119.58,312.42 119.79,312.34 120.00,312.27 120.31,312.31 120.62,312.28 120.93,312.24 121.24,312.48 121.55,312.43 121.85,312.56 122.16,312.59 122.46,312.61 122.76,312.61 123.06,312.68 123.36,312.71 123.66,312.68 123.95,312.62 124.25,312.62 124.54,312.62 124.83,312.58 125.12,312.54 125.41,312.42 125.70,312.53 125.98,312.50 126.27,312.37 126.55,312.32 126.83,312.48 127.11,312.41 127.39,312.40 127.67,312.47 127.94,312.57 128.22,312.48 128.49,312.44 128.76,312.42 129.03,312.30 129.30,312.47 129.56,312.33 129.83,312.51 130.09,312.39 130.35,312.31 130.61,312.46 130.87,312.55 131.12,312.43 131.38,312.45 131.63,312.44 131.88,312.50 132.13,312.39 132.37,312.50 132.62,312.61 132.86,312.60 133.10,312.65 133.34,312.68 133.58,312.55 133.82,312.60 134.05,312.62 134.29,312.57 134.52,312.40 134.74,312.44 134.97,312.55 135.20,312.44 135.42,312.48 135.64,312.56 135.86,312.53 136.08,312.36 136.29,312.42 136.51,312.35 136.72,312.47 136.93,312.49 137.14,312.41 137.34,312.52 137.54,312.51 137.75,312.42 137.95,312.51 138.14,312.58 138.34,312.62 138.53,312.64 138.72,312.59 138.91,312.57 139.10,312.53 139.28,312.49 139.47,312.59 139.65,312.47 139.82,312.33 140.00,312.42 140.43,312.41 140.84,312.42 141.24,312.43 141.62,312.35 141.98,312.28 142.33,312.21 142.66,312.36 142.98,312.49 143.29,312.50 143.59,312.35 143.87,312.50 144.14,312.55 144.40,312.49 144.65,312.31 144.89,312.44 145.12,312.46 145.35,312.47 145.56,312.30 145.77,312.41 145.97,312.27 146.16,312.32 146.35,312.25 146.53,312.27 146.70,312.43 146.87,312.49 147.04,312.54 147.21,312.43 147.37,312.39 147.53,312.42 147.69,312.28 147.84,312.30 148.00,312.48 148.53,312.53 148.90,312.63 149.14,312.56 149.31,312.64 149.43,312.71 149.56,312.71 149.74,312.58 150.00,312.35 150.22,312.13 150.47,312.19 150.72,312.19 150.99,311.94 151.27,311.85 151.55,311.62 151.83,311.45 152.11,311.30 152.38,310.94 152.63,310.67 152.88,310.24 153.10,309.88 153.41,309.10 153.69,308.35 153.95,307.52 154.20,306.81 154.43,305.74 154.66,304.84 154.88,303.67 155.10,302.77 155.38,301.11 155.64,299.32 155.88,297.52 156.12,295.91 156.36,294.20 156.60,292.65 156.85,290.91 157.11,288.97 157.36,287.20 157.61,285.67 157.86,284.65 158.10,283.87 158.38,283.87 158.64,284.80 158.90,285.89 159.16,287.41 159.40,288.49 159.69,290.18 159.96,292.20 160.22,293.78 160.50,293.77 160.79,292.24 161.07,289.19 161.38,285.78 161.70,282.29 161.93,280.04 162.18,277.13 162.44,274.23 162.70,271.66 162.95,269.98 163.20,269.45 163.48,270.83 163.75,273.56 164.02,277.10 164.30,281.09 164.60,284.39 164.87,287.14 165.15,290.51 165.44,293.83 165.74,296.71 166.02,298.98 166.30,299.91 166.56,300.00 166.82,299.07 167.08,297.44 167.32,295.39 167.56,292.86 167.80,290.41 168.08,287.06 168.34,283.14 168.60,279.02 168.86,275.21 169.10,272.15 169.39,269.45 169.67,267.42 169.94,266.27 170.20,266.06 170.52,268.28 170.81,272.48 171.10,277.14 171.37,282.10 171.62,287.37 171.90,292.46 172.12,295.85 172.36,299.14 172.61,302.24 172.90,304.93 173.10,306.21 173.30,307.40 173.52,308.60 173.76,309.38 174.05,310.05 174.40,310.73 174.61,311.20 174.84,311.54 175.10,311.87 175.37,312.00 175.65,312.00 175.94,312.12 176.23,312.35 176.51,312.43 176.79,312.45 177.05,312.57 177.29,312.71 177.50,312.82 177.78,313.07 177.90,313.20 177.97,313.31 178.14,313.63 178.50,313.84 179.20,313.90 179.36,313.81 179.53,313.81 179.72,313.89 179.93,314.03 180.14,314.01 180.37,314.14 180.61,314.10 180.87,313.99 181.13,314.04 181.40,314.08 181.67,314.10 181.96,314.16 182.24,314.00 182.54,314.02 182.84,314.14 183.14,314.03 183.44,313.93 183.74,313.92 184.05,313.94 184.35,314.00 184.65,313.99 184.95,314.08 185.24,314.00 185.53,314.00 185.82,314.09 186.09,314.10 186.36,314.22 186.63,314.28 186.88,314.12 187.12,314.04 187.35,314.03 187.57,314.02 187.77,313.96 187.96,314.04 188.14,313.90 188.30,313.87 188.94,313.56 189.35,313.43 189.59,313.09 189.72,312.83 189.81,312.26 189.91,311.93 190.10,311.56 190.39,310.93 190.67,310.49 190.95,310.01 191.23,309.35 191.51,309.17 191.80,309.14 192.05,309.31 192.29,309.68 192.53,310.14 192.78,310.65 193.04,311.34 193.31,312.07 193.60,312.45 193.82,312.77 194.00,313.01 194.19,313.37 194.37,313.76 194.58,314.05 194.84,314.14 195.15,314.29 195.53,314.32 196.00,314.53 196.17,314.70 196.36,314.81 196.56,314.68 196.78,314.71 197.00,314.64 197.23,314.71 197.48,314.90 197.73,314.85 197.98,314.98 198.25,315.10 198.52,315.14 198.79,314.99 199.06,315.11 199.34,315.19 199.62,315.26 199.91,315.02 200.19,314.88 200.47,314.88 200.74,314.94 201.02,314.95 201.29,314.85 201.56,314.95 201.82,315.01 202.07,315.02 202.32,314.99 202.55,314.98 202.78,315.00 203.00,314.82 203.31,314.80 203.61,314.67 203.91,314.57 204.21,314.66 204.49,314.57 204.77,314.48 205.05,314.38 205.32,314.37 205.58,314.20 205.84,314.20 206.09,314.00 206.34,314.08 206.58,313.87 206.81,313.86 207.04,313.74 207.27,313.59 207.48,313.41 207.69,313.26 207.90,313.23 208.24,312.97 208.55,312.67 208.84,312.26 209.11,311.97 209.37,311.52 209.61,311.19 209.84,310.90 210.07,310.57 210.28,310.27 210.49,309.99 210.70,309.64 211.00,309.45 211.27,309.15 211.51,308.90 211.74,308.75 211.97,308.49 212.22,308.32 212.50,308.26 212.74,308.29 212.99,308.40 213.24,308.58 213.50,308.77 213.77,309.08 214.05,309.35 214.33,309.67 214.61,310.07 214.90,310.34 215.14,310.74 215.38,311.10 215.62,311.34 215.86,311.77 216.11,311.99 216.36,312.24 216.61,312.78 216.88,312.97 217.14,313.18 217.42,313.64 217.70,313.75 217.90,314.02 218.07,314.20 218.22,314.27 218.35,314.35 218.48,314.64 218.61,314.69 218.76,314.71 218.94,314.80 219.16,314.97 219.43,314.97 219.76,314.94 220.15,315.15 220.63,315.11 221.20,315.11 221.36,315.06 221.53,315.32 221.71,315.33 221.89,315.43 222.08,315.44 222.28,315.57 222.48,315.48 222.69,315.44 222.91,315.51 223.13,315.37 223.36,315.40 223.59,315.53 223.83,315.56 224.08,315.57 224.32,315.70 224.58,315.65 224.83,315.70 225.09,315.65 225.35,315.54 225.62,315.56 225.89,315.53 226.16,315.47 226.44,315.51 226.71,315.50 226.99,315.58 227.27,315.72 227.55,315.82 227.84,315.91 228.12,315.82 228.40,315.86 228.69,315.96 228.97,315.88 229.26,315.99 229.54,315.82 229.83,315.96 230.11,316.04 230.39,316.11 230.67,316.12 230.95,316.10 231.23,316.01 231.51,316.04 231.78,316.10 232.05,316.06 232.32,316.05 232.58,316.13 232.84,316.01 233.10,315.95 233.36,315.83 233.60,316.00 233.85,316.03 234.09,316.06 234.33,315.96 234.56,315.89 234.78,315.93 235.00,316.06 235.30,316.00 235.59,315.98 235.89,315.97 236.18,316.08 236.47,315.94 236.77,316.07 237.06,315.90 237.34,315.99 237.63,316.06 237.91,316.02 238.20,316.06 238.48,315.96 238.76,315.85 239.03,315.85 239.31,315.81 239.58,315.91 239.84,315.93 240.11,315.96 240.37,316.06 240.63,316.06 240.89,316.05 241.14,316.10 241.39,316.11 241.64,316.05 241.88,315.91 242.12,315.86 242.35,315.89 242.58,315.91 242.81,315.95 243.03,315.93 243.25,315.88 243.46,315.74 243.67,315.75 243.88,315.62 244.08,315.67 244.27,315.57 244.46,315.45 244.65,315.64 244.83,315.73 245.00,315.61 245.46,315.45 245.87,315.55 246.23,315.59 246.55,315.42 246.84,315.50 247.09,315.53 247.33,315.46 247.54,315.32 247.73,315.16 247.92,315.04 248.11,315.05 248.29,315.11 248.49,315.10 248.70,314.94 249.02,314.94 249.32,314.70 249.60,314.67 249.86,314.48 250.11,314.26 250.36,314.10 250.60,314.07 250.84,313.78 251.10,313.40 251.36,313.14 251.63,312.75 251.89,312.38 252.15,311.94 252.41,311.51 252.67,311.09 252.92,310.46 253.16,309.97 253.40,309.33 253.70,308.64 253.99,307.88 254.27,307.36 254.54,306.62 254.81,306.01 255.06,305.45 255.30,304.74 255.61,303.82 255.88,302.98 256.14,302.27 256.40,301.57 256.70,300.84 256.94,300.58 257.20,300.23 257.46,299.96 257.74,299.66 258.00,299.34 258.26,299.07 258.50,298.77 258.80,298.32 259.06,298.05 259.32,297.83 259.59,297.40 259.90,297.11 260.15,296.98 260.42,297.01 260.71,297.17 260.99,297.19 261.28,297.28 261.55,297.15 261.80,297.04 262.12,296.71 262.42,296.48 262.70,296.03 262.96,295.40 263.20,294.77 263.54,293.12 263.83,291.14 264.10,289.28 264.36,287.95 264.61,286.87 264.90,286.70 265.16,287.86 265.44,289.77 265.73,292.03 266.00,294.19 266.30,297.09 266.57,300.29 266.90,303.38 267.14,305.13 267.40,306.75 267.68,308.54 267.98,310.01 268.30,311.12 268.54,311.81 268.78,312.32 269.03,312.86 269.30,313.19 269.58,313.61 269.88,313.89 270.20,314.32 270.42,314.56 270.65,314.59 270.90,314.82 271.15,314.93 271.41,314.93 271.68,315.14 271.94,315.02 272.21,315.07 272.48,315.16 272.74,315.09 273.00,315.13 273.25,315.26 273.51,315.15 273.76,315.15 274.02,314.97 274.27,315.03 274.53,315.02 274.78,314.75 275.04,314.70 275.29,314.51 275.55,314.27 275.80,314.14 276.06,314.16 276.32,314.04 276.58,313.93 276.84,313.69 277.10,313.50 277.36,313.39 277.62,313.32 277.87,313.33 278.12,313.21 278.36,313.09 278.60,313.19 278.87,313.21 279.13,313.28 279.37,313.39 279.60,313.41 279.84,313.43 280.08,313.46 280.33,313.69 280.60,313.91 280.90,314.15 281.09,314.31 281.22,314.34 281.33,314.41 281.42,314.65 281.51,314.60 281.62,314.71 281.76,314.88 281.95,315.05 282.21,315.20 282.54,315.22 282.98,315.36 283.52,315.39 284.20,315.50 284.35,315.47 284.51,315.49 284.67,315.60 284.84,315.61 285.01,315.56 285.18,315.61 285.36,315.71 285.54,315.67 285.73,315.65 285.92,315.68 286.11,315.78 286.31,315.67 286.51,315.78 286.71,315.68 286.92,315.86 287.13,315.77 287.34,315.91 287.56,315.77 287.78,315.82 288.00,315.79 288.23,315.92 288.46,316.01 288.69,315.88 288.93,315.79 289.17,315.93 289.41,315.93 289.66,315.92 289.91,315.91 290.16,315.92 290.41,315.98 290.67,315.97 290.92,315.90 291.19,315.95 291.45,316.13 291.72,316.18 291.99,316.20 292.26,316.28 292.53,316.19 292.81,316.12 293.08,316.20 293.37,316.05 293.65,316.16 293.93,316.05 294.22,316.12 294.51,316.13 294.80,316.21 295.09,316.07 295.38,316.15 295.68,316.25 295.98,316.09 296.28,316.17 296.58,316.11 296.88,316.21 297.19,316.33 297.49,316.13 297.80,316.13 298.11,316.15 298.42,316.31 298.73,316.38 299.04,316.18 299.35,316.08 299.67,316.10 299.98,316.23 300.30,316.30 300.51,316.28 300.72,316.36 300.94,316.39 301.16,316.42 301.38,316.37 301.61,316.23 301.83,316.29 302.07,316.31 302.30,316.39 302.54,316.22 302.78,316.07 303.02,316.08 303.27,316.05 303.52,316.08 303.77,316.00 304.02,316.10 304.28,316.11 304.53,316.08 304.79,316.00 305.06,316.09 305.32,316.01 305.58,316.18 305.85,316.11 306.12,316.24 306.39,316.10 306.66,316.09 306.94,316.20 307.21,316.18 307.49,316.15 307.77,316.26 308.04,316.11 308.32,316.22 308.60,316.19 308.89,316.10 309.17,316.07 309.45,316.03 309.73,316.10 310.02,316.08 310.30,316.10 310.59,316.14 310.87,316.22 311.16,316.22 311.44,316.11 311.73,316.14 312.01,316.17 312.30,316.24 312.58,316.14 312.87,316.11 313.15,316.16 313.43,316.07 313.72,316.00 314.00,316.05 314.28,316.00 314.56,316.11 314.84,316.03 315.12,315.94 315.40,315.99 315.67,316.02 315.95,316.14 316.22,316.20 316.49,316.09 316.76,316.02 317.03,316.04 317.30,316.01 317.57,316.01 317.83,315.95 318.09,316.04 318.35,316.10 318.61,316.11 318.87,316.10 319.12,316.13 319.37,315.97 319.62,316.06 319.87,315.90 320.11,315.78 320.35,315.81 320.59,315.73 320.82,315.71 321.06,315.79 321.29,315.71 321.51,315.73 321.74,315.73 321.95,315.88 322.17,315.73 322.38,315.76 322.59,315.76 322.80,315.67 323.00,315.67 323.20,315.67 323.39,315.66 323.58,315.71 323.77,315.74 323.95,315.72 324.13,315.71 324.31,315.74 324.47,315.72 324.64,315.61 324.80,315.68 325.37,315.63 325.90,315.72 326.38,315.55 326.82,315.56 327.23,315.48 327.59,315.51 327.93,315.57 328.23,315.55 328.51,315.49 328.76,315.55 328.98,315.37 329.19,315.47 329.38,315.35 329.55,315.32 329.70,315.14 329.85,314.99 329.99,314.91 330.13,314.96 330.26,314.88 330.39,314.96 330.52,314.81 330.66,314.84 330.80,314.90 330.95,314.85 331.12,314.86 331.30,314.80 331.66,314.67 332.00,314.29 332.31,314.12 332.61,313.87 332.88,313.67 333.13,313.55 333.37,313.39 333.60,313.06 333.81,312.77 334.02,312.49 334.22,312.43 334.41,312.35 334.60,312.02 334.96,311.57 335.24,311.16 335.48,311.01 335.69,310.53 335.92,310.27 336.20,310.08 336.44,309.72 336.68,309.53 336.93,309.21 337.19,309.02 337.46,308.78 337.74,308.52 338.01,308.57 338.30,308.53 338.53,308.71 338.78,308.77 339.03,309.00 339.28,309.15 339.54,309.17 339.80,309.28 340.05,309.74 340.31,310.03 340.56,310.36 340.80,310.67 341.06,310.88 341.31,311.27 341.56,311.67 341.80,311.91 342.05,312.35 342.30,312.88 342.55,313.23 342.82,313.63 343.10,313.76 343.34,313.96 343.58,314.19 343.82,314.40 344.06,314.67 344.32,314.79 344.57,314.93 344.84,315.04 345.11,315.20 345.40,315.29 345.69,315.33 346.00,315.35 346.21,315.51 346.42,315.48 346.62,315.55 346.82,315.48 347.03,315.63 347.23,315.50 347.45,315.47 347.67,315.43 347.90,315.54 348.14,315.56 348.40,315.43 348.68,315.34 348.97,315.43 349.29,315.40 349.63,315.31 350.00,315.24 350.20,315.37 350.40,315.44 350.62,315.52 350.85,315.38 351.08,315.41 351.33,315.34 351.58,315.42 351.83,315.39 352.10,315.37 352.37,315.46 352.64,315.42 352.92,315.57 353.20,315.50 353.48,315.49 353.76,315.62 354.05,315.58 354.34,315.56 354.62,315.70 354.91,315.72 355.19,315.81 355.47,315.88 355.75,315.96 356.02,315.76 356.29,315.73 356.55,315.73 356.81,315.68 357.06,315.81 357.31,315.75 357.55,315.86 357.77,315.68 357.99,315.67 358.20,315.71 358.53,315.75 358.86,315.66 359.16,315.68 359.46,315.50 359.74,315.36 360.02,315.19 360.28,315.05 360.54,315.01 360.79,315.00 361.03,314.81 361.26,314.74 361.49,314.64 361.71,314.70 361.93,314.57 362.15,314.55 362.36,314.35 362.57,314.40 362.79,314.17 363.00,314.06 363.30,314.13 363.59,314.15 363.86,314.18 364.13,314.25 364.38,314.25 364.62,314.36 364.86,314.38 365.10,314.46 365.33,314.57 365.57,314.54 365.81,314.65 366.05,314.73 366.30,314.82 366.55,314.58 366.78,314.52 367.01,314.39 367.24,314.28 367.46,314.27 367.69,314.31 367.92,314.12 368.16,314.17 368.41,314.18 368.67,314.19 368.96,314.11 369.27,313.89 369.60,313.88 369.81,313.84 370.03,313.71 370.26,313.77 370.50,313.66 370.75,313.72 371.00,313.75 371.26,313.62 371.53,313.46 371.80,313.54 372.07,313.39 372.35,313.27 372.63,313.41 372.91,313.30 373.19,313.23 373.46,313.22 373.74,313.31 374.01,313.20 374.28,313.18 374.54,313.09 374.80,313.10 375.06,313.25 375.30,313.32 375.58,313.36 375.85,313.50 376.12,313.36 376.39,313.37 376.65,313.50 376.91,313.53 377.17,313.76 377.42,313.72 377.68,313.93 377.93,314.03 378.18,314.11 378.44,314.26 378.69,314.25 378.94,314.24 379.19,314.30 379.44,314.45 379.69,314.59 379.95,314.65 380.20,314.75 380.46,314.80 380.71,314.90 380.97,314.81 381.23,314.98 381.49,315.04 381.74,315.05 382.00,315.04 382.26,315.19 382.52,315.21 382.77,315.29 383.03,315.41 383.28,315.41 383.53,315.44 383.78,315.43 384.03,315.50 384.28,315.69 384.52,315.64 384.76,315.60 385.00,315.53 385.28,315.59 385.56,315.63 385.84,315.45 386.12,315.48 386.40,315.21 386.68,315.03 386.95,314.85 387.22,314.87 387.48,314.63 387.75,314.61 388.00,314.38 388.26,314.22 388.50,314.01 388.74,314.03 388.97,313.87 389.20,313.89 389.51,313.73 389.81,313.51 390.09,313.26 390.35,313.05 390.61,312.85 390.86,312.76 391.11,312.45 391.35,312.20 391.60,312.27 391.85,312.22 392.10,312.20 392.36,312.21 392.61,312.16 392.86,312.30 393.11,312.64 393.36,312.81 393.61,313.12 393.86,313.37 394.11,313.53 394.37,313.67 394.63,313.82 394.90,314.12 395.15,314.20 395.42,314.36 395.69,314.52 395.96,314.71 396.24,314.68 396.52,314.77 396.80,314.93 397.07,315.01 397.34,315.00 397.60,315.03 397.86,315.07 398.10,315.08 398.38,314.90 398.65,314.58 398.92,314.28 399.18,314.13 399.43,313.93 399.68,313.62 399.92,313.39 400.15,313.02 400.38,312.76 400.60,312.53 400.89,312.32 401.15,312.10 401.40,311.64 401.64,311.22 401.89,310.99 402.18,311.02 402.50,311.17 402.71,311.08 402.92,311.22 403.15,311.48 403.38,311.89 403.62,312.19 403.87,312.48 404.12,312.95 404.39,313.29 404.65,313.67 404.93,313.96 405.21,314.27 405.50,314.41 405.72,314.52 405.96,314.54 406.20,314.64 406.45,314.79 406.70,314.91 406.96,314.98 407.22,314.98 407.48,314.94 407.74,314.90 408.01,314.88 408.27,315.02 408.53,315.03 408.78,315.07 409.03,315.06 409.27,314.88 409.50,314.87 409.78,314.82 410.05,314.95 410.33,314.94 410.59,314.82 410.86,314.76 411.12,314.81 411.37,314.69 411.62,314.63 411.87,314.44 412.11,314.29 412.34,314.22 412.57,313.95 412.80,313.82 413.09,313.63 413.37,313.40 413.64,312.97 413.90,312.56 414.16,312.24 414.40,311.80 414.64,311.37 414.87,310.81 415.09,310.17 415.30,309.78 415.62,308.73 415.90,307.80 416.16,306.67 416.41,305.74 416.65,304.83 416.90,304.05 417.17,303.45 417.46,302.94 417.75,302.76 418.01,302.47 418.24,302.35 418.40,302.00"/>
</g>
<!-- panel a frame -->
<rect x="31.25" y="7" width="387.5" height="313" fill="none" stroke="#000" stroke-width="1.7"/>
<g stroke="#000" stroke-width="1.6"><line x1="31.25" y1="320" x2="31.25" y2="326.5"/><line x1="79.75" y1="320" x2="79.75" y2="323.2"/><line x1="128.25" y1="320" x2="128.25" y2="326.5"/><line x1="176.75" y1="320" x2="176.75" y2="323.2"/><line x1="225.25" y1="320" x2="225.25" y2="326.5"/><line x1="273.75" y1="320" x2="273.75" y2="323.2"/><line x1="322.25" y1="320" x2="322.25" y2="326.5"/><line x1="370.75" y1="320" x2="370.75" y2="323.2"/><line x1="419.25" y1="320" x2="419.25" y2="326.5"/></g>
<g class="b" font-size="12.3" text-anchor="middle" fill="#000"><text x="31.25" y="339.5">10</text><text x="128.25" y="339.5">20</text><text x="225.25" y="339.5">30</text><text x="322.25" y="339.5">40</text><text x="419.25" y="339.5">50</text></g>
<text class="b" x="39" y="31.3" font-size="22">(a)</text>
<text class="b" x="189.5" y="357.2" font-size="12" textLength="72.5" lengthAdjust="spacingAndGlyphs">2<tspan font-family="Liberation Serif">θ</tspan> (degree)</text>
<text class="b" transform="translate(19.3,152.5) rotate(-90)" font-size="13.8" text-anchor="middle" textLength="91" lengthAdjust="spacingAndGlyphs">Counts (a.u.)</text>
<g fill="#0000ff" class="b">
<text x="367" y="26.9" font-size="12.2" textLength="46" lengthAdjust="spacingAndGlyphs"><tspan font-family="Liberation Serif" font-weight="normal" font-size="13">α</tspan>-MoO<tspan font-size="8.5" dy="4.5">3</tspan></text>
<text x="312.8" y="48.5" font-size="11.4" textLength="98.3" lengthAdjust="spacingAndGlyphs" xml:space="preserve">JCPDS#  05-0508</text>
</g>
<text class="b" x="379.5" y="181.2" font-size="13.3" fill="#ff00ff" textLength="34.5" lengthAdjust="spacingAndGlyphs">WDM</text>
<text class="b" x="38.5" y="288.6" font-size="14" fill="#000">WO<tspan font-size="9" dy="4">3</tspan></text>
<text class="b" x="34" y="306.7" font-size="12" fill="#000" xml:space="preserve">JCPDS#  43-1035</text>
<!-- peak labels -->
<g font-size="9.3"><text transform="translate(61.0,232.0) rotate(-90)" fill="#2323ff" stroke="#2323ff" stroke-width="0.22" textLength="45.7" lengthAdjust="spacingAndGlyphs">MoO<tspan font-size="5.6" dy="2.8">3</tspan><tspan dy="-2.8"> (020)</tspan></text>
<text transform="translate(161.2,198.8) rotate(-90)" fill="#2323ff" stroke="#2323ff" stroke-width="0.22" textLength="44.9" lengthAdjust="spacingAndGlyphs">MoO<tspan font-size="5.6" dy="2.8">3</tspan><tspan dy="-2.8"> (110)</tspan></text>
<text transform="translate(168.2,241.8) rotate(-90)" fill="#000" stroke="#000" stroke-width="0.22" textLength="40.6" lengthAdjust="spacingAndGlyphs">WO<tspan font-size="5.6" dy="2.8">3</tspan><tspan dy="-2.8"> (020)</tspan></text>
<text transform="translate(176.2,244.7) rotate(-90)" fill="#000" stroke="#000" stroke-width="0.22" textLength="41.4" lengthAdjust="spacingAndGlyphs">WO<tspan font-size="5.6" dy="2.8">3</tspan><tspan dy="-2.8"> (200)</tspan></text>
<text transform="translate(188.4,213.8) rotate(-90)" fill="#2323ff" stroke="#2323ff" stroke-width="0.22" textLength="46.3" lengthAdjust="spacingAndGlyphs">MoO<tspan font-size="5.6" dy="2.8">3</tspan><tspan dy="-2.8"> (040)</tspan></text>
<text transform="translate(199.6,186.9) rotate(-90)" fill="#2323ff" stroke="#2323ff" stroke-width="0.22" textLength="46.1" lengthAdjust="spacingAndGlyphs">MoO<tspan font-size="5.6" dy="2.8">3</tspan><tspan dy="-2.8"> (021)</tspan></text>
<text transform="translate(214.6,251.1) rotate(-90)" fill="#000" stroke="#000" stroke-width="0.22" textLength="42.7" lengthAdjust="spacingAndGlyphs">WO<tspan font-size="5.6" dy="2.8">3</tspan><tspan dy="-2.8"> (112)</tspan></text>
<text transform="translate(226.4,251.1) rotate(-90)" fill="#2323ff" stroke="#2323ff" stroke-width="0.22" textLength="46.4" lengthAdjust="spacingAndGlyphs">MoO<tspan font-size="5.6" dy="2.8">3</tspan><tspan dy="-2.8"> (130)</tspan></text>
<text transform="translate(252.2,242.0) rotate(-90)" fill="#2323ff" stroke="#2323ff" stroke-width="0.22" textLength="45.8" lengthAdjust="spacingAndGlyphs">MoO<tspan font-size="5.6" dy="2.8">3</tspan><tspan dy="-2.8"> (101)</tspan></text>
<text transform="translate(265.0,236.2) rotate(-90)" fill="#2323ff" stroke="#2323ff" stroke-width="0.22" textLength="45.8" lengthAdjust="spacingAndGlyphs">MoO<tspan font-size="5.6" dy="2.8">3</tspan><tspan dy="-2.8"> (111)</tspan></text>
<text transform="translate(278.7,250.0) rotate(-90)" fill="#2323ff" stroke="#2323ff" stroke-width="0.22" textLength="45.1" lengthAdjust="spacingAndGlyphs">MoO<tspan font-size="5.6" dy="2.8">3</tspan><tspan dy="-2.8"> (041)</tspan></text>
<text transform="translate(313.0,234.0) rotate(-90)" fill="#2323ff" stroke="#2323ff" stroke-width="0.22" textLength="45.5" lengthAdjust="spacingAndGlyphs">MoO<tspan font-size="5.6" dy="2.8">3</tspan><tspan dy="-2.8"> (060)</tspan></text>
<text transform="translate(412.4,240.7) rotate(-90)" fill="#2323ff" stroke="#2323ff" stroke-width="0.22" textLength="45.5" lengthAdjust="spacingAndGlyphs">MoO<tspan font-size="5.6" dy="2.8">3</tspan><tspan dy="-2.8"> (002)</tspan></text></g>
<!-- panel b -->
<g fill="none" stroke-width="1.15" stroke-linejoin="miter">
<polyline stroke="#3535f5" points="34.50,500.10 50.30,495.10 61.00,488.50 71.90,482.40 93.50,447.00 115.00,375.30 125.50,383.40 136.30,421.50 146.80,467.30 157.80,493.60 168.60,508.10 179.50,511.60 191.50,514.30 205.00,516.00 220.60,517.20"/>
<polyline stroke="#ff38ff" points="34.50,507.30 50.30,501.40 61.00,497.90 71.90,491.60 93.50,471.40 104.10,466.30 115.00,474.80 125.50,488.60 136.30,503.60 147.50,513.60 157.80,516.40 168.60,517.60 180.50,518.30 200.00,519.30 220.60,520.60"/>
</g>
<line x1="115.5" y1="375" x2="115.5" y2="525" stroke="#000" stroke-width="1.1" stroke-dasharray="1,1"/>
<rect x="34.5" y="373.7" width="186.5" height="151.3" fill="none" stroke="#3a3a3a" stroke-width="1.1"/>
<g stroke="#3a3a3a" stroke-width="0.9"><line x1="45.10" y1="525" x2="45.10" y2="527.6"/><line x1="58.58" y1="525" x2="58.58" y2="526.6"/><line x1="72.05" y1="525" x2="72.05" y2="527.6"/><line x1="85.53" y1="525" x2="85.53" y2="526.6"/><line x1="99.00" y1="525" x2="99.00" y2="527.6"/><line x1="112.47" y1="525" x2="112.47" y2="526.6"/><line x1="125.95" y1="525" x2="125.95" y2="527.6"/><line x1="139.43" y1="525" x2="139.43" y2="526.6"/><line x1="152.90" y1="525" x2="152.90" y2="527.6"/><line x1="166.37" y1="525" x2="166.37" y2="526.6"/><line x1="179.85" y1="525" x2="179.85" y2="527.6"/><line x1="193.33" y1="525" x2="193.33" y2="526.6"/><line x1="206.80" y1="525" x2="206.80" y2="527.6"/><line x1="220.28" y1="525" x2="220.28" y2="526.6"/></g>
<g class="b" font-size="5.4" text-anchor="middle" fill="#222"><text x="45.10" y="535.1" textLength="13.6" lengthAdjust="spacingAndGlyphs">12.45</text><text x="72.05" y="535.1" textLength="13.6" lengthAdjust="spacingAndGlyphs">12.50</text><text x="99.00" y="535.1" textLength="13.6" lengthAdjust="spacingAndGlyphs">12.55</text><text x="125.95" y="535.1" textLength="13.6" lengthAdjust="spacingAndGlyphs">12.60</text><text x="152.90" y="535.1" textLength="13.6" lengthAdjust="spacingAndGlyphs">12.65</text><text x="179.85" y="535.1" textLength="13.6" lengthAdjust="spacingAndGlyphs">12.70</text><text x="206.80" y="535.1" textLength="13.6" lengthAdjust="spacingAndGlyphs">12.75</text></g>
<text class="b" x="108.6" y="545.1" font-size="6.6" fill="#111" textLength="35.6" lengthAdjust="spacingAndGlyphs">2<tspan font-family="Liberation Serif">θ</tspan> (degree)</text>
<text class="b" transform="translate(31.0,451.8) rotate(-90)" font-size="7" text-anchor="middle" fill="#111" textLength="45.5" lengthAdjust="spacingAndGlyphs">Counts (a.u.)</text>
<text class="b" x="191" y="396.6" font-size="22">(b)</text>
<text class="b" x="37.6" y="383" font-size="6.6" fill="#1515ee" textLength="24" lengthAdjust="spacingAndGlyphs"><tspan font-family="Liberation Serif" font-weight="normal" font-size="7.4">α</tspan>-MoO<tspan font-size="4.3" dy="2.5">3</tspan></text>
<text class="b" x="39.7" y="394" font-size="6.5" fill="#ff00ff">WDM</text>
<text transform="translate(121.6,412.8) rotate(-90)" font-size="5.8" fill="#2828ff" stroke="#2828ff" stroke-width="0.15" textLength="30" lengthAdjust="spacingAndGlyphs">MoO<tspan font-size="4" dy="1.2">3</tspan><tspan dy="-1.2"> (020)</tspan></text>

<!-- panel c -->
<g fill="none" stroke-width="1.15" stroke-linejoin="miter">
<polyline stroke="#3535f5" points="234.50,506.30 247.00,500.80 259.00,493.80 270.60,482.30 282.00,465.50 293.50,441.30 305.00,407.50 316.20,375.40 327.00,382.80 338.30,421.50 349.60,436.30 360.80,446.20 383.30,496.30 395.30,507.00 408.00,510.70 419.50,513.10"/>
<polyline stroke="#ff38ff" points="234.50,509.60 247.00,505.00 259.00,498.90 270.60,490.20 282.00,477.50 293.50,462.50 305.00,443.30 316.20,446.10 327.00,461.60 338.30,476.40 349.60,482.20 360.80,491.80 372.80,505.60 384.00,513.40 395.30,515.80 407.00,516.60 419.50,517.10"/>
</g>
<line x1="316.5" y1="375" x2="316.5" y2="523" stroke="#000" stroke-width="1.1" stroke-dasharray="1,1"/>
<rect x="234.6" y="373.7" width="184.9" height="149.4" fill="none" stroke="#3a3a3a" stroke-width="1.1"/>
<g stroke="#3a3a3a" stroke-width="0.9"><line x1="247.80" y1="523.1" x2="247.80" y2="525.8"/><line x1="276.17" y1="523.1" x2="276.17" y2="524.8"/><line x1="304.53" y1="523.1" x2="304.53" y2="525.8"/><line x1="332.90" y1="523.1" x2="332.90" y2="524.8"/><line x1="361.26" y1="523.1" x2="361.26" y2="525.8"/><line x1="389.62" y1="523.1" x2="389.62" y2="524.8"/><line x1="417.99" y1="523.1" x2="417.99" y2="525.8"/></g>
<g class="b" font-size="5.4" text-anchor="middle" fill="#222"><text x="247.80" y="532.5" textLength="10.4" lengthAdjust="spacingAndGlyphs">27.0</text><text x="304.53" y="532.5" textLength="10.4" lengthAdjust="spacingAndGlyphs">27.1</text><text x="361.26" y="532.5" textLength="10.4" lengthAdjust="spacingAndGlyphs">27.2</text><text x="417.99" y="532.5" textLength="10.4" lengthAdjust="spacingAndGlyphs">27.3</text></g>
<text class="b" x="308.1" y="543.4" font-size="6.6" fill="#111" textLength="35.8" lengthAdjust="spacingAndGlyphs">2<tspan font-family="Liberation Serif">θ</tspan> (degree)</text>
<text class="b" transform="translate(231.0,451.2) rotate(-90)" font-size="7" text-anchor="middle" fill="#111" textLength="45.5" lengthAdjust="spacingAndGlyphs">Counts (a.u.)</text>
<text class="b" x="388.2" y="395.3" font-size="22">(c)</text>
<text class="b" x="237.6" y="383" font-size="6.6" fill="#1515ee" textLength="24" lengthAdjust="spacingAndGlyphs"><tspan font-family="Liberation Serif" font-weight="normal" font-size="7.4">α</tspan>-MoO<tspan font-size="4.3" dy="2.5">3</tspan></text>
<text class="b" x="239.7" y="394" font-size="6.5" fill="#ff00ff">WDM</text>
<text transform="translate(322.8,416.2) rotate(-90)" font-size="5.8" fill="#2828ff" stroke="#2828ff" stroke-width="0.15" textLength="29.6" lengthAdjust="spacingAndGlyphs">MoO<tspan font-size="4" dy="1.2">3</tspan><tspan dy="-1.2"> (021)</tspan></text>
</svg>
</body></html>
